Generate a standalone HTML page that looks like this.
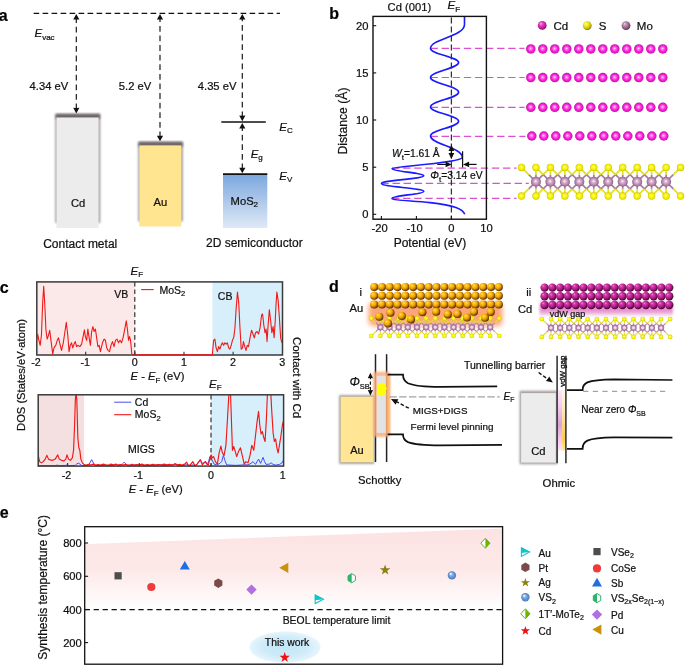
<!DOCTYPE html>
<html lang="en"><head><meta charset="utf-8"><title>Figure</title>
<style>
html,body{margin:0;padding:0;background:#fff;}
body{width:685px;height:665px;overflow:hidden;}
svg{display:block;font-family:"Liberation Sans", sans-serif;}
svg text{stroke:#111;stroke-width:0.22px;}
</style></head><body>
<svg width="685" height="665" viewBox="0 0 685 665">
<defs>
<filter id="blur08" x="-20%" y="-20%" width="140%" height="140%"><feGaussianBlur stdDeviation="0.8"/></filter>
<linearGradient id="gMoS2" x1="0" y1="0" x2="0" y2="1"><stop offset="0" stop-color="#7ba7de"/><stop offset="1" stop-color="#dfe9f6"/></linearGradient>
<radialGradient id="gCd" cx="0.5" cy="0.5" r="0.5" fx="0.46" fy="0.44"><stop offset="0" stop-color="#ffd8f8"/><stop offset="0.28" stop-color="#ff74e8"/><stop offset="0.6" stop-color="#fa22d6"/><stop offset="0.85" stop-color="#e212c2"/><stop offset="1" stop-color="#b4109e"/></radialGradient>
<radialGradient id="gCdL" cx="0.44" cy="0.42" r="0.62" fx="0.34" fy="0.28"><stop offset="0" stop-color="#ff9ee6"/><stop offset="0.4" stop-color="#e436bc"/><stop offset="0.75" stop-color="#b81f98"/><stop offset="1" stop-color="#5e0e4e"/></radialGradient>
<radialGradient id="gSL" cx="0.44" cy="0.42" r="0.62" fx="0.34" fy="0.28"><stop offset="0" stop-color="#ffff9a"/><stop offset="0.4" stop-color="#f0e81c"/><stop offset="0.75" stop-color="#c4bb10"/><stop offset="1" stop-color="#5e5908"/></radialGradient>
<radialGradient id="gMoL" cx="0.44" cy="0.42" r="0.62" fx="0.34" fy="0.28"><stop offset="0" stop-color="#ecc9e2"/><stop offset="0.4" stop-color="#b582a8"/><stop offset="0.75" stop-color="#875a7c"/><stop offset="1" stop-color="#3f2439"/></radialGradient>
<radialGradient id="gS" cx="0.5" cy="0.5" r="0.5" fx="0.44" fy="0.42"><stop offset="0" stop-color="#ffff9c"/><stop offset="0.35" stop-color="#fbf820"/><stop offset="0.75" stop-color="#f0ea00"/><stop offset="1" stop-color="#c8c200"/></radialGradient>
<radialGradient id="gMo" cx="0.5" cy="0.5" r="0.5" fx="0.46" fy="0.44"><stop offset="0" stop-color="#fff6fd"/><stop offset="0.3" stop-color="#dcb6d4"/><stop offset="0.7" stop-color="#b888ae"/><stop offset="1" stop-color="#8c5f86"/></radialGradient>
<filter id="blur1" x="-30%" y="-30%" width="160%" height="160%"><feGaussianBlur stdDeviation="1.1"/></filter>
<filter id="blur3" x="-30%" y="-50%" width="160%" height="200%"><feGaussianBlur stdDeviation="2.6"/></filter>
<radialGradient id="gAu" cx="0.42" cy="0.40" r="0.66" fx="0.32" fy="0.27"><stop offset="0" stop-color="#ffe670"/><stop offset="0.25" stop-color="#fcc01c"/><stop offset="0.5" stop-color="#f0a600"/><stop offset="0.68" stop-color="#b87200"/><stop offset="0.86" stop-color="#6a4000"/><stop offset="1" stop-color="#2a1400"/></radialGradient>
<radialGradient id="gCdD" cx="0.42" cy="0.40" r="0.66" fx="0.32" fy="0.27"><stop offset="0" stop-color="#f58ad8"/><stop offset="0.22" stop-color="#d83aae"/><stop offset="0.46" stop-color="#c02395"/><stop offset="0.66" stop-color="#951872"/><stop offset="0.85" stop-color="#540a40"/><stop offset="1" stop-color="#1c0216"/></radialGradient>
<radialGradient id="gMoRing" cx="0.5" cy="0.5" r="0.5"><stop offset="0" stop-color="#f6e6f2"/><stop offset="0.38" stop-color="#ecd0e6"/><stop offset="0.62" stop-color="#b584ac"/><stop offset="1" stop-color="#a06c98"/></radialGradient>
<linearGradient id="gPinkGlow" x1="0" y1="0" x2="0" y2="1"><stop offset="0" stop-color="#f0b4e0" stop-opacity="0.35"/><stop offset="0.35" stop-color="#e48ccb" stop-opacity="0.9"/><stop offset="0.62" stop-color="#e592ce"/><stop offset="0.85" stop-color="#f3c6e6" stop-opacity="0.8"/><stop offset="1" stop-color="#ffffff" stop-opacity="0"/></linearGradient>
<linearGradient id="gStripP" x1="0" y1="0" x2="0" y2="1"><stop offset="0" stop-color="#fde4f8"/><stop offset="0.25" stop-color="#f8ccf0"/><stop offset="0.57" stop-color="#dca2d6"/><stop offset="0.85" stop-color="#f7caf1"/><stop offset="1" stop-color="#fde0f9"/></linearGradient>
<linearGradient id="gStripY" x1="0" y1="0" x2="0" y2="1"><stop offset="0" stop-color="#fdf5e6"/><stop offset="0.3" stop-color="#fbeac0"/><stop offset="0.6" stop-color="#f9d67c"/><stop offset="0.8" stop-color="#fbcc44"/><stop offset="1" stop-color="#fde6a4"/></linearGradient>
<linearGradient id="gPinkE" gradientUnits="userSpaceOnUse" x1="0" y1="528" x2="0" y2="609.5"><stop offset="0" stop-color="#fce3e3"/><stop offset="0.5" stop-color="#fde8e8"/><stop offset="1" stop-color="#ffffff"/></linearGradient>
<radialGradient id="gEll" cx="0.5" cy="0.5" r="0.5"><stop offset="0" stop-color="#c3e7f7"/><stop offset="0.6" stop-color="#cdebf8"/><stop offset="1" stop-color="#e6f5fc"/></radialGradient>
<radialGradient id="gBlueS" cx="0.5" cy="0.5" r="0.5" fx="0.33" fy="0.27"><stop offset="0" stop-color="#ffffff"/><stop offset="0.14" stop-color="#e4eefb"/><stop offset="0.36" stop-color="#8db4e4"/><stop offset="0.7" stop-color="#5e90d2"/><stop offset="1" stop-color="#4d7cbc"/></radialGradient>
</defs>

<rect width="685" height="665" fill="#fff"/>
<g id="panel-a">
<text x="-1.2" y="21.0" font-size="16" font-weight="bold" fill="#000">a</text>
<line x1="33.6" y1="13.3" x2="280" y2="13.3" stroke="#111" stroke-width="1.15" stroke-dasharray="5.6 3.4"/>
<text x="34.5" y="37.4" font-size="11.5" fill="#111"><tspan font-style="italic">E</tspan><tspan font-size="8" dy="2.6" font-style="normal">vac</tspan></text>
<rect x="55.2" y="114.3" width="45.1" height="108.7" fill="#aaa4a4" filter="url(#blur08)"/>
<rect x="55.7" y="113.8" width="44.3" height="5" fill="#6f6767" filter="url(#blur08)"/>
<rect x="56.5" y="117.5" width="42.1" height="110.5" fill="#ececec"/>
<rect x="138.1" y="142.2" width="44.9" height="79.3" fill="#aaa4a4" filter="url(#blur08)"/>
<rect x="138.6" y="141.7" width="44.1" height="5" fill="#6f6767" filter="url(#blur08)"/>
<rect x="139.4" y="145.4" width="41.9" height="81.1" fill="#ffe590"/>
<rect x="223" y="174" width="44.3" height="54" fill="url(#gMoS2)"/>
<line x1="223" y1="174.1" x2="267.3" y2="174.1" stroke="#111" stroke-width="1.6"/>
<line x1="221.3" y1="122" x2="265.8" y2="122" stroke="#111" stroke-width="1.6"/>
<line x1="76.3" y1="109.4" x2="76.3" y2="19.0" stroke="#111" stroke-width="1.15" stroke-dasharray="5.8 3.8"/>
<path d="M76.30 14.00L79.40 19.60L76.30 19.43L73.20 19.60Z" fill="#111"/>
<path d="M76.30 113.40L73.20 107.80L76.30 107.97L79.40 107.80Z" fill="#111"/>
<line x1="160.0" y1="137.3" x2="160.0" y2="19.0" stroke="#111" stroke-width="1.15" stroke-dasharray="5.8 3.8"/>
<path d="M160.00 14.00L163.10 19.60L160.00 19.43L156.90 19.60Z" fill="#111"/>
<path d="M160.00 141.30L156.90 135.70L160.00 135.87L163.10 135.70Z" fill="#111"/>
<line x1="242.3" y1="117.2" x2="242.3" y2="19.0" stroke="#111" stroke-width="1.15" stroke-dasharray="5.8 3.8"/>
<path d="M242.30 14.00L245.40 19.60L242.30 19.43L239.20 19.60Z" fill="#111"/>
<path d="M242.30 121.20L239.20 115.60L242.30 115.77L245.40 115.60Z" fill="#111"/>
<line x1="242.3" y1="169.3" x2="242.3" y2="128.0" stroke="#111" stroke-width="1.15" stroke-dasharray="5.8 3.8"/>
<path d="M242.30 123.00L245.40 128.60L242.30 128.43L239.20 128.60Z" fill="#111"/>
<path d="M242.30 173.30L239.20 167.70L242.30 167.87L245.40 167.70Z" fill="#111"/>
<text x="29.6" y="90.2" font-size="11.2" fill="#111">4.34 eV</text>
<text x="118.8" y="90.2" font-size="11.2" fill="#111">5.2 eV</text>
<text x="197.8" y="90.2" font-size="11.2" fill="#111">4.35 eV</text>
<text x="71.0" y="206.7" font-size="11.2" fill="#111">Cd</text>
<text x="153.6" y="206.0" font-size="11.2" fill="#111">Au</text>
<text x="230.6" y="204.8" font-size="11.2" fill="#111">MoS<tspan font-size="8" dy="2.6" font-style="normal">2</tspan></text>
<text x="279.3" y="130.6" font-size="11.5" fill="#111"><tspan font-style="italic">E</tspan><tspan font-size="8" dy="2.6" font-style="normal">C</tspan></text>
<text x="250.7" y="157.6" font-size="11.5" fill="#111"><tspan font-style="italic">E</tspan><tspan font-size="8" dy="2.6" font-style="normal">g</tspan></text>
<text x="279.3" y="179.7" font-size="11.5" fill="#111"><tspan font-style="italic">E</tspan><tspan font-size="8" dy="2.6" font-style="normal">V</tspan></text>
<text x="43.2" y="247.6" font-size="12" fill="#111">Contact metal</text>
<text x="206.0" y="247.1" font-size="12" fill="#111">2D semiconductor</text>
</g>
<g id="panel-b">
<text x="329.3" y="19.0" font-size="16" font-weight="bold" fill="#000">b</text>
<line x1="430.5" y1="48.4" x2="524.5" y2="48.4" stroke="#dc4fd0" stroke-width="1.2" stroke-dasharray="7.4 3.7"/>
<line x1="430.5" y1="77.5" x2="524.5" y2="77.5" stroke="#dc4fd0" stroke-width="1.2" stroke-dasharray="7.4 3.7"/>
<line x1="430.5" y1="107.3" x2="524.5" y2="107.3" stroke="#dc4fd0" stroke-width="1.2" stroke-dasharray="7.4 3.7"/>
<line x1="430.5" y1="136.3" x2="525.5" y2="136.3" stroke="#dc4fd0" stroke-width="1.2" stroke-dasharray="7.4 3.7"/>
<line x1="392" y1="168.2" x2="516.5" y2="168.2" stroke="#dc4fd0" stroke-width="1.2" stroke-dasharray="7.4 3.7"/>
<line x1="381.4" y1="183.3" x2="528.8" y2="183.3" stroke="#dc4fd0" stroke-width="1.2" stroke-dasharray="7.4 3.7"/>
<line x1="392" y1="198.3" x2="516.5" y2="198.3" stroke="#dc4fd0" stroke-width="1.2" stroke-dasharray="7.4 3.7"/>
<line x1="451.4" y1="16.4" x2="451.4" y2="219.2" stroke="#333" stroke-width="1.25" stroke-dasharray="5.8 3.2" stroke-dashoffset="7.8"/>
<path d="M464.8 214.3C462.5 209.0 455 205.5 430 202.6C410 200.6 392 200.2 392 198.4C392.00 195.46 423.80 194.34 423.80 191.40C423.80 188.08 381.40 186.82 381.40 183.50C381.40 180.27 423.80 179.03 423.80 175.80C423.80 172.69 392.00 171.51 392.00 168.40C392.00 166.61 462.30 162.80 462.30 157.20C462.30 147.62 430.50 143.99 430.50 135.90C430.50 130.02 458.60 127.08 458.60 121.20C458.60 115.52 430.50 112.68 430.50 107.00C430.50 101.08 458.60 98.12 458.60 92.20C458.60 86.28 430.50 83.32 430.50 77.40C430.50 71.48 458.60 68.52 458.60 62.60C458.60 56.92 430.50 54.08 430.50 48.40C430.50 38.84 464.50 36.45 464.50 24.50L464.5 16.4" fill="none" stroke="#1a1aff" stroke-width="1.6" stroke-linejoin="round"/>
<rect x="373.0" y="16.4" width="113.39999999999998" height="202.79999999999998" fill="none" stroke="#111" stroke-width="1.4"/>
<line x1="373.0" y1="214.3" x2="376.2" y2="214.3" stroke="#111" stroke-width="1.1"/>
<text x="368.4" y="218.4" font-size="11.2" text-anchor="end" fill="#111">0</text>
<line x1="373.0" y1="167.2" x2="376.2" y2="167.2" stroke="#111" stroke-width="1.1"/>
<text x="368.4" y="171.2" font-size="11.2" text-anchor="end" fill="#111">5</text>
<line x1="373.0" y1="120.0" x2="376.2" y2="120.0" stroke="#111" stroke-width="1.1"/>
<text x="368.4" y="124.1" font-size="11.2" text-anchor="end" fill="#111">10</text>
<line x1="373.0" y1="72.9" x2="376.2" y2="72.9" stroke="#111" stroke-width="1.1"/>
<text x="368.4" y="77.0" font-size="11.2" text-anchor="end" fill="#111">15</text>
<line x1="373.0" y1="25.7" x2="376.2" y2="25.7" stroke="#111" stroke-width="1.1"/>
<text x="368.4" y="29.8" font-size="11.2" text-anchor="end" fill="#111">20</text>
<line x1="381.4" y1="219.2" x2="381.4" y2="216.0" stroke="#111" stroke-width="1.1"/>
<text x="379.7" y="231.6" font-size="11.2" text-anchor="middle" fill="#111">-20</text>
<line x1="416.4" y1="219.2" x2="416.4" y2="216.0" stroke="#111" stroke-width="1.1"/>
<text x="414.7" y="231.6" font-size="11.2" text-anchor="middle" fill="#111">-10</text>
<line x1="451.4" y1="219.2" x2="451.4" y2="216.0" stroke="#111" stroke-width="1.1"/>
<text x="451.4" y="231.6" font-size="11.2" text-anchor="middle" fill="#111">0</text>
<text x="486.4" y="231.6" font-size="11.2" text-anchor="middle" fill="#111">10</text>
<text x="430.0" y="246.5" font-size="12" text-anchor="middle" fill="#111">Potential (eV)</text>
<text transform="translate(346.8,121.0) rotate(-90)" font-size="12.2" text-anchor="middle" fill="#111">Distance (Å)</text>
<text x="387.6" y="11.3" font-size="11.2" fill="#111">Cd (001)</text>
<text x="447.6" y="9.0" font-size="11.5" fill="#111"><tspan font-style="italic">E</tspan><tspan font-size="8" dy="2.6" font-style="normal">F</tspan></text>
<text x="392.0" y="157.2" font-size="10.3" fill="#111"><tspan font-style="italic">W</tspan><tspan font-size="8" dy="2.4" font-style="normal">t</tspan><tspan dy="-2.4">=1.61 Å</tspan></text>
<text x="430.3" y="179.2" font-size="10.3" fill="#111"><tspan font-style="italic">Φ</tspan><tspan font-size="8" dy="2.4" font-style="normal">t</tspan><tspan dy="-2.4">=3.14 eV</tspan></text>
<line x1="451.4" y1="149" x2="451.4" y2="155" stroke="#111" stroke-width="1.3"/>
<path d="M451.40 144.90L454.30 151.10L451.40 150.91L448.50 151.10Z" fill="#111"/>
<path d="M451.40 159.10L448.50 152.90L451.40 153.09L454.30 152.90Z" fill="#111"/>
<line x1="437.2" y1="164.4" x2="447" y2="164.4" stroke="#111" stroke-width="1.2"/>
<path d="M451.70 164.40L445.50 167.30L445.69 164.40L445.50 161.50Z" fill="#111"/>
<line x1="462.6" y1="151.2" x2="462.6" y2="167.4" stroke="#111" stroke-width="1.2"/>
<line x1="467.5" y1="164.4" x2="476.6" y2="164.4" stroke="#111" stroke-width="1.2"/>
<path d="M463.00 164.40L469.20 161.50L469.01 164.40L469.20 167.30Z" fill="#111"/>
<circle cx="542.20" cy="25.40" r="4.4" fill="url(#gCdL)"/>
<text x="553.5" y="30.1" font-size="11.5" fill="#111">Cd</text>
<circle cx="587.20" cy="25.60" r="4.4" fill="url(#gSL)"/>
<text x="598.8" y="30.1" font-size="11.5" fill="#111">S</text>
<circle cx="626.00" cy="25.60" r="4.4" fill="url(#gMoL)"/>
<text x="636.8" y="30.1" font-size="11.5" fill="#111">Mo</text>
<circle cx="530.80" cy="48.90" r="4.75" fill="url(#gCd)"/>
<circle cx="542.80" cy="48.90" r="4.75" fill="url(#gCd)"/>
<circle cx="554.80" cy="48.90" r="4.75" fill="url(#gCd)"/>
<circle cx="566.80" cy="48.90" r="4.75" fill="url(#gCd)"/>
<circle cx="578.80" cy="48.90" r="4.75" fill="url(#gCd)"/>
<circle cx="590.80" cy="48.90" r="4.75" fill="url(#gCd)"/>
<circle cx="602.80" cy="48.90" r="4.75" fill="url(#gCd)"/>
<circle cx="614.80" cy="48.90" r="4.75" fill="url(#gCd)"/>
<circle cx="626.80" cy="48.90" r="4.75" fill="url(#gCd)"/>
<circle cx="638.80" cy="48.90" r="4.75" fill="url(#gCd)"/>
<circle cx="650.80" cy="48.90" r="4.75" fill="url(#gCd)"/>
<circle cx="662.80" cy="48.90" r="4.75" fill="url(#gCd)"/>
<circle cx="530.80" cy="77.60" r="4.75" fill="url(#gCd)"/>
<circle cx="542.80" cy="77.60" r="4.75" fill="url(#gCd)"/>
<circle cx="554.80" cy="77.60" r="4.75" fill="url(#gCd)"/>
<circle cx="566.80" cy="77.60" r="4.75" fill="url(#gCd)"/>
<circle cx="578.80" cy="77.60" r="4.75" fill="url(#gCd)"/>
<circle cx="590.80" cy="77.60" r="4.75" fill="url(#gCd)"/>
<circle cx="602.80" cy="77.60" r="4.75" fill="url(#gCd)"/>
<circle cx="614.80" cy="77.60" r="4.75" fill="url(#gCd)"/>
<circle cx="626.80" cy="77.60" r="4.75" fill="url(#gCd)"/>
<circle cx="638.80" cy="77.60" r="4.75" fill="url(#gCd)"/>
<circle cx="650.80" cy="77.60" r="4.75" fill="url(#gCd)"/>
<circle cx="662.80" cy="77.60" r="4.75" fill="url(#gCd)"/>
<circle cx="530.80" cy="107.30" r="4.75" fill="url(#gCd)"/>
<circle cx="542.80" cy="107.30" r="4.75" fill="url(#gCd)"/>
<circle cx="554.80" cy="107.30" r="4.75" fill="url(#gCd)"/>
<circle cx="566.80" cy="107.30" r="4.75" fill="url(#gCd)"/>
<circle cx="578.80" cy="107.30" r="4.75" fill="url(#gCd)"/>
<circle cx="590.80" cy="107.30" r="4.75" fill="url(#gCd)"/>
<circle cx="602.80" cy="107.30" r="4.75" fill="url(#gCd)"/>
<circle cx="614.80" cy="107.30" r="4.75" fill="url(#gCd)"/>
<circle cx="626.80" cy="107.30" r="4.75" fill="url(#gCd)"/>
<circle cx="638.80" cy="107.30" r="4.75" fill="url(#gCd)"/>
<circle cx="650.80" cy="107.30" r="4.75" fill="url(#gCd)"/>
<circle cx="662.80" cy="107.30" r="4.75" fill="url(#gCd)"/>
<circle cx="531.80" cy="136.00" r="4.75" fill="url(#gCd)"/>
<circle cx="543.80" cy="136.00" r="4.75" fill="url(#gCd)"/>
<circle cx="555.80" cy="136.00" r="4.75" fill="url(#gCd)"/>
<circle cx="567.80" cy="136.00" r="4.75" fill="url(#gCd)"/>
<circle cx="579.80" cy="136.00" r="4.75" fill="url(#gCd)"/>
<circle cx="591.80" cy="136.00" r="4.75" fill="url(#gCd)"/>
<circle cx="603.80" cy="136.00" r="4.75" fill="url(#gCd)"/>
<circle cx="615.80" cy="136.00" r="4.75" fill="url(#gCd)"/>
<circle cx="627.80" cy="136.00" r="4.75" fill="url(#gCd)"/>
<circle cx="639.80" cy="136.00" r="4.75" fill="url(#gCd)"/>
<circle cx="651.80" cy="136.00" r="4.75" fill="url(#gCd)"/>
<circle cx="663.80" cy="136.00" r="4.75" fill="url(#gCd)"/>
<line x1="535.96" y1="181.7" x2="528.73" y2="174.55" stroke="#a57ea2" stroke-width="1.7"/>
<line x1="528.73" y1="174.55" x2="521.50" y2="167.4" stroke="#e6e010" stroke-width="1.7"/>
<line x1="535.96" y1="181.7" x2="535.96" y2="174.55" stroke="#a57ea2" stroke-width="1.7"/>
<line x1="535.96" y1="174.55" x2="535.96" y2="167.4" stroke="#e6e010" stroke-width="1.7"/>
<line x1="535.96" y1="181.7" x2="543.19" y2="174.55" stroke="#a57ea2" stroke-width="1.7"/>
<line x1="543.19" y1="174.55" x2="550.42" y2="167.4" stroke="#e6e010" stroke-width="1.7"/>
<line x1="535.96" y1="181.7" x2="528.73" y2="188.85" stroke="#a57ea2" stroke-width="1.7"/>
<line x1="528.73" y1="188.85" x2="521.50" y2="196.0" stroke="#e6e010" stroke-width="1.7"/>
<line x1="535.96" y1="181.7" x2="535.96" y2="188.85" stroke="#a57ea2" stroke-width="1.7"/>
<line x1="535.96" y1="188.85" x2="535.96" y2="196.0" stroke="#e6e010" stroke-width="1.7"/>
<line x1="535.96" y1="181.7" x2="543.19" y2="188.85" stroke="#a57ea2" stroke-width="1.7"/>
<line x1="543.19" y1="188.85" x2="550.42" y2="196.0" stroke="#e6e010" stroke-width="1.7"/>
<line x1="550.42" y1="181.7" x2="543.19" y2="174.55" stroke="#a57ea2" stroke-width="1.7"/>
<line x1="543.19" y1="174.55" x2="535.96" y2="167.4" stroke="#e6e010" stroke-width="1.7"/>
<line x1="550.42" y1="181.7" x2="550.42" y2="174.55" stroke="#a57ea2" stroke-width="1.7"/>
<line x1="550.42" y1="174.55" x2="550.42" y2="167.4" stroke="#e6e010" stroke-width="1.7"/>
<line x1="550.42" y1="181.7" x2="557.65" y2="174.55" stroke="#a57ea2" stroke-width="1.7"/>
<line x1="557.65" y1="174.55" x2="564.88" y2="167.4" stroke="#e6e010" stroke-width="1.7"/>
<line x1="550.42" y1="181.7" x2="543.19" y2="188.85" stroke="#a57ea2" stroke-width="1.7"/>
<line x1="543.19" y1="188.85" x2="535.96" y2="196.0" stroke="#e6e010" stroke-width="1.7"/>
<line x1="550.42" y1="181.7" x2="550.42" y2="188.85" stroke="#a57ea2" stroke-width="1.7"/>
<line x1="550.42" y1="188.85" x2="550.42" y2="196.0" stroke="#e6e010" stroke-width="1.7"/>
<line x1="550.42" y1="181.7" x2="557.65" y2="188.85" stroke="#a57ea2" stroke-width="1.7"/>
<line x1="557.65" y1="188.85" x2="564.88" y2="196.0" stroke="#e6e010" stroke-width="1.7"/>
<line x1="564.88" y1="181.7" x2="557.65" y2="174.55" stroke="#a57ea2" stroke-width="1.7"/>
<line x1="557.65" y1="174.55" x2="550.42" y2="167.4" stroke="#e6e010" stroke-width="1.7"/>
<line x1="564.88" y1="181.7" x2="564.88" y2="174.55" stroke="#a57ea2" stroke-width="1.7"/>
<line x1="564.88" y1="174.55" x2="564.88" y2="167.4" stroke="#e6e010" stroke-width="1.7"/>
<line x1="564.88" y1="181.7" x2="572.11" y2="174.55" stroke="#a57ea2" stroke-width="1.7"/>
<line x1="572.11" y1="174.55" x2="579.34" y2="167.4" stroke="#e6e010" stroke-width="1.7"/>
<line x1="564.88" y1="181.7" x2="557.65" y2="188.85" stroke="#a57ea2" stroke-width="1.7"/>
<line x1="557.65" y1="188.85" x2="550.42" y2="196.0" stroke="#e6e010" stroke-width="1.7"/>
<line x1="564.88" y1="181.7" x2="564.88" y2="188.85" stroke="#a57ea2" stroke-width="1.7"/>
<line x1="564.88" y1="188.85" x2="564.88" y2="196.0" stroke="#e6e010" stroke-width="1.7"/>
<line x1="564.88" y1="181.7" x2="572.11" y2="188.85" stroke="#a57ea2" stroke-width="1.7"/>
<line x1="572.11" y1="188.85" x2="579.34" y2="196.0" stroke="#e6e010" stroke-width="1.7"/>
<line x1="579.34" y1="181.7" x2="572.11" y2="174.55" stroke="#a57ea2" stroke-width="1.7"/>
<line x1="572.11" y1="174.55" x2="564.88" y2="167.4" stroke="#e6e010" stroke-width="1.7"/>
<line x1="579.34" y1="181.7" x2="579.34" y2="174.55" stroke="#a57ea2" stroke-width="1.7"/>
<line x1="579.34" y1="174.55" x2="579.34" y2="167.4" stroke="#e6e010" stroke-width="1.7"/>
<line x1="579.34" y1="181.7" x2="586.57" y2="174.55" stroke="#a57ea2" stroke-width="1.7"/>
<line x1="586.57" y1="174.55" x2="593.80" y2="167.4" stroke="#e6e010" stroke-width="1.7"/>
<line x1="579.34" y1="181.7" x2="572.11" y2="188.85" stroke="#a57ea2" stroke-width="1.7"/>
<line x1="572.11" y1="188.85" x2="564.88" y2="196.0" stroke="#e6e010" stroke-width="1.7"/>
<line x1="579.34" y1="181.7" x2="579.34" y2="188.85" stroke="#a57ea2" stroke-width="1.7"/>
<line x1="579.34" y1="188.85" x2="579.34" y2="196.0" stroke="#e6e010" stroke-width="1.7"/>
<line x1="579.34" y1="181.7" x2="586.57" y2="188.85" stroke="#a57ea2" stroke-width="1.7"/>
<line x1="586.57" y1="188.85" x2="593.80" y2="196.0" stroke="#e6e010" stroke-width="1.7"/>
<line x1="593.80" y1="181.7" x2="586.57" y2="174.55" stroke="#a57ea2" stroke-width="1.7"/>
<line x1="586.57" y1="174.55" x2="579.34" y2="167.4" stroke="#e6e010" stroke-width="1.7"/>
<line x1="593.80" y1="181.7" x2="593.80" y2="174.55" stroke="#a57ea2" stroke-width="1.7"/>
<line x1="593.80" y1="174.55" x2="593.80" y2="167.4" stroke="#e6e010" stroke-width="1.7"/>
<line x1="593.80" y1="181.7" x2="601.03" y2="174.55" stroke="#a57ea2" stroke-width="1.7"/>
<line x1="601.03" y1="174.55" x2="608.26" y2="167.4" stroke="#e6e010" stroke-width="1.7"/>
<line x1="593.80" y1="181.7" x2="586.57" y2="188.85" stroke="#a57ea2" stroke-width="1.7"/>
<line x1="586.57" y1="188.85" x2="579.34" y2="196.0" stroke="#e6e010" stroke-width="1.7"/>
<line x1="593.80" y1="181.7" x2="593.80" y2="188.85" stroke="#a57ea2" stroke-width="1.7"/>
<line x1="593.80" y1="188.85" x2="593.80" y2="196.0" stroke="#e6e010" stroke-width="1.7"/>
<line x1="593.80" y1="181.7" x2="601.03" y2="188.85" stroke="#a57ea2" stroke-width="1.7"/>
<line x1="601.03" y1="188.85" x2="608.26" y2="196.0" stroke="#e6e010" stroke-width="1.7"/>
<line x1="608.26" y1="181.7" x2="601.03" y2="174.55" stroke="#a57ea2" stroke-width="1.7"/>
<line x1="601.03" y1="174.55" x2="593.80" y2="167.4" stroke="#e6e010" stroke-width="1.7"/>
<line x1="608.26" y1="181.7" x2="608.26" y2="174.55" stroke="#a57ea2" stroke-width="1.7"/>
<line x1="608.26" y1="174.55" x2="608.26" y2="167.4" stroke="#e6e010" stroke-width="1.7"/>
<line x1="608.26" y1="181.7" x2="615.49" y2="174.55" stroke="#a57ea2" stroke-width="1.7"/>
<line x1="615.49" y1="174.55" x2="622.72" y2="167.4" stroke="#e6e010" stroke-width="1.7"/>
<line x1="608.26" y1="181.7" x2="601.03" y2="188.85" stroke="#a57ea2" stroke-width="1.7"/>
<line x1="601.03" y1="188.85" x2="593.80" y2="196.0" stroke="#e6e010" stroke-width="1.7"/>
<line x1="608.26" y1="181.7" x2="608.26" y2="188.85" stroke="#a57ea2" stroke-width="1.7"/>
<line x1="608.26" y1="188.85" x2="608.26" y2="196.0" stroke="#e6e010" stroke-width="1.7"/>
<line x1="608.26" y1="181.7" x2="615.49" y2="188.85" stroke="#a57ea2" stroke-width="1.7"/>
<line x1="615.49" y1="188.85" x2="622.72" y2="196.0" stroke="#e6e010" stroke-width="1.7"/>
<line x1="622.72" y1="181.7" x2="615.49" y2="174.55" stroke="#a57ea2" stroke-width="1.7"/>
<line x1="615.49" y1="174.55" x2="608.26" y2="167.4" stroke="#e6e010" stroke-width="1.7"/>
<line x1="622.72" y1="181.7" x2="622.72" y2="174.55" stroke="#a57ea2" stroke-width="1.7"/>
<line x1="622.72" y1="174.55" x2="622.72" y2="167.4" stroke="#e6e010" stroke-width="1.7"/>
<line x1="622.72" y1="181.7" x2="629.95" y2="174.55" stroke="#a57ea2" stroke-width="1.7"/>
<line x1="629.95" y1="174.55" x2="637.18" y2="167.4" stroke="#e6e010" stroke-width="1.7"/>
<line x1="622.72" y1="181.7" x2="615.49" y2="188.85" stroke="#a57ea2" stroke-width="1.7"/>
<line x1="615.49" y1="188.85" x2="608.26" y2="196.0" stroke="#e6e010" stroke-width="1.7"/>
<line x1="622.72" y1="181.7" x2="622.72" y2="188.85" stroke="#a57ea2" stroke-width="1.7"/>
<line x1="622.72" y1="188.85" x2="622.72" y2="196.0" stroke="#e6e010" stroke-width="1.7"/>
<line x1="622.72" y1="181.7" x2="629.95" y2="188.85" stroke="#a57ea2" stroke-width="1.7"/>
<line x1="629.95" y1="188.85" x2="637.18" y2="196.0" stroke="#e6e010" stroke-width="1.7"/>
<line x1="637.18" y1="181.7" x2="629.95" y2="174.55" stroke="#a57ea2" stroke-width="1.7"/>
<line x1="629.95" y1="174.55" x2="622.72" y2="167.4" stroke="#e6e010" stroke-width="1.7"/>
<line x1="637.18" y1="181.7" x2="637.18" y2="174.55" stroke="#a57ea2" stroke-width="1.7"/>
<line x1="637.18" y1="174.55" x2="637.18" y2="167.4" stroke="#e6e010" stroke-width="1.7"/>
<line x1="637.18" y1="181.7" x2="644.41" y2="174.55" stroke="#a57ea2" stroke-width="1.7"/>
<line x1="644.41" y1="174.55" x2="651.64" y2="167.4" stroke="#e6e010" stroke-width="1.7"/>
<line x1="637.18" y1="181.7" x2="629.95" y2="188.85" stroke="#a57ea2" stroke-width="1.7"/>
<line x1="629.95" y1="188.85" x2="622.72" y2="196.0" stroke="#e6e010" stroke-width="1.7"/>
<line x1="637.18" y1="181.7" x2="637.18" y2="188.85" stroke="#a57ea2" stroke-width="1.7"/>
<line x1="637.18" y1="188.85" x2="637.18" y2="196.0" stroke="#e6e010" stroke-width="1.7"/>
<line x1="637.18" y1="181.7" x2="644.41" y2="188.85" stroke="#a57ea2" stroke-width="1.7"/>
<line x1="644.41" y1="188.85" x2="651.64" y2="196.0" stroke="#e6e010" stroke-width="1.7"/>
<line x1="651.64" y1="181.7" x2="644.41" y2="174.55" stroke="#a57ea2" stroke-width="1.7"/>
<line x1="644.41" y1="174.55" x2="637.18" y2="167.4" stroke="#e6e010" stroke-width="1.7"/>
<line x1="651.64" y1="181.7" x2="651.64" y2="174.55" stroke="#a57ea2" stroke-width="1.7"/>
<line x1="651.64" y1="174.55" x2="651.64" y2="167.4" stroke="#e6e010" stroke-width="1.7"/>
<line x1="651.64" y1="181.7" x2="658.87" y2="174.55" stroke="#a57ea2" stroke-width="1.7"/>
<line x1="658.87" y1="174.55" x2="666.10" y2="167.4" stroke="#e6e010" stroke-width="1.7"/>
<line x1="651.64" y1="181.7" x2="644.41" y2="188.85" stroke="#a57ea2" stroke-width="1.7"/>
<line x1="644.41" y1="188.85" x2="637.18" y2="196.0" stroke="#e6e010" stroke-width="1.7"/>
<line x1="651.64" y1="181.7" x2="651.64" y2="188.85" stroke="#a57ea2" stroke-width="1.7"/>
<line x1="651.64" y1="188.85" x2="651.64" y2="196.0" stroke="#e6e010" stroke-width="1.7"/>
<line x1="651.64" y1="181.7" x2="658.87" y2="188.85" stroke="#a57ea2" stroke-width="1.7"/>
<line x1="658.87" y1="188.85" x2="666.10" y2="196.0" stroke="#e6e010" stroke-width="1.7"/>
<line x1="666.10" y1="181.7" x2="658.87" y2="174.55" stroke="#a57ea2" stroke-width="1.7"/>
<line x1="658.87" y1="174.55" x2="651.64" y2="167.4" stroke="#e6e010" stroke-width="1.7"/>
<line x1="666.10" y1="181.7" x2="666.10" y2="174.55" stroke="#a57ea2" stroke-width="1.7"/>
<line x1="666.10" y1="174.55" x2="666.10" y2="167.4" stroke="#e6e010" stroke-width="1.7"/>
<line x1="666.10" y1="181.7" x2="673.33" y2="174.55" stroke="#a57ea2" stroke-width="1.7"/>
<line x1="673.33" y1="174.55" x2="680.56" y2="167.4" stroke="#e6e010" stroke-width="1.7"/>
<line x1="666.10" y1="181.7" x2="658.87" y2="188.85" stroke="#a57ea2" stroke-width="1.7"/>
<line x1="658.87" y1="188.85" x2="651.64" y2="196.0" stroke="#e6e010" stroke-width="1.7"/>
<line x1="666.10" y1="181.7" x2="666.10" y2="188.85" stroke="#a57ea2" stroke-width="1.7"/>
<line x1="666.10" y1="188.85" x2="666.10" y2="196.0" stroke="#e6e010" stroke-width="1.7"/>
<line x1="666.10" y1="181.7" x2="673.33" y2="188.85" stroke="#a57ea2" stroke-width="1.7"/>
<line x1="673.33" y1="188.85" x2="680.56" y2="196.0" stroke="#e6e010" stroke-width="1.7"/>
<circle cx="521.50" cy="167.40" r="3.7" fill="url(#gS)"/>
<circle cx="521.50" cy="196.00" r="3.7" fill="url(#gS)"/>
<circle cx="535.96" cy="167.40" r="3.7" fill="url(#gS)"/>
<circle cx="535.96" cy="196.00" r="3.7" fill="url(#gS)"/>
<circle cx="550.42" cy="167.40" r="3.7" fill="url(#gS)"/>
<circle cx="550.42" cy="196.00" r="3.7" fill="url(#gS)"/>
<circle cx="564.88" cy="167.40" r="3.7" fill="url(#gS)"/>
<circle cx="564.88" cy="196.00" r="3.7" fill="url(#gS)"/>
<circle cx="579.34" cy="167.40" r="3.7" fill="url(#gS)"/>
<circle cx="579.34" cy="196.00" r="3.7" fill="url(#gS)"/>
<circle cx="593.80" cy="167.40" r="3.7" fill="url(#gS)"/>
<circle cx="593.80" cy="196.00" r="3.7" fill="url(#gS)"/>
<circle cx="608.26" cy="167.40" r="3.7" fill="url(#gS)"/>
<circle cx="608.26" cy="196.00" r="3.7" fill="url(#gS)"/>
<circle cx="622.72" cy="167.40" r="3.7" fill="url(#gS)"/>
<circle cx="622.72" cy="196.00" r="3.7" fill="url(#gS)"/>
<circle cx="637.18" cy="167.40" r="3.7" fill="url(#gS)"/>
<circle cx="637.18" cy="196.00" r="3.7" fill="url(#gS)"/>
<circle cx="651.64" cy="167.40" r="3.7" fill="url(#gS)"/>
<circle cx="651.64" cy="196.00" r="3.7" fill="url(#gS)"/>
<circle cx="666.10" cy="167.40" r="3.7" fill="url(#gS)"/>
<circle cx="666.10" cy="196.00" r="3.7" fill="url(#gS)"/>
<circle cx="680.56" cy="167.40" r="3.7" fill="url(#gS)"/>
<circle cx="680.56" cy="196.00" r="3.7" fill="url(#gS)"/>
<circle cx="535.96" cy="181.70" r="5.05" fill="url(#gMo)"/>
<circle cx="550.42" cy="181.70" r="5.05" fill="url(#gMo)"/>
<circle cx="564.88" cy="181.70" r="5.05" fill="url(#gMo)"/>
<circle cx="579.34" cy="181.70" r="5.05" fill="url(#gMo)"/>
<circle cx="593.80" cy="181.70" r="5.05" fill="url(#gMo)"/>
<circle cx="608.26" cy="181.70" r="5.05" fill="url(#gMo)"/>
<circle cx="622.72" cy="181.70" r="5.05" fill="url(#gMo)"/>
<circle cx="637.18" cy="181.70" r="5.05" fill="url(#gMo)"/>
<circle cx="651.64" cy="181.70" r="5.05" fill="url(#gMo)"/>
<circle cx="666.10" cy="181.70" r="5.05" fill="url(#gMo)"/>
</g>
<g id="panel-c">
<text x="-0.3" y="292.8" font-size="16" font-weight="bold" fill="#000">c</text>
<rect x="36.8" y="281.9" width="98.0" height="73.10000000000002" fill="#fbe9e9"/>
<rect x="212.4" y="281.9" width="70.1" height="73.10000000000002" fill="#d6effb"/>
<line x1="134.8" y1="281.9" x2="134.8" y2="355.0" stroke="#222" stroke-width="1.1" stroke-dasharray="4.6 3"/>
<clipPath id="clipC1"><rect x="36.8" y="281.9" width="245.7" height="74.10000000000002"/></clipPath>
<rect x="36.8" y="281.9" width="245.7" height="73.10000000000002" fill="none" stroke="#3a3a3a" stroke-width="1.5"/>
<path d="M36.66 340.32L37.66 334.04L38.92 340.32L40.17 345.34L41.43 335.30L42.68 302.66L43.69 286.34L44.69 302.66L45.95 330.28L47.20 339.06L48.46 335.30L49.71 330.28L50.97 340.32L52.72 354.13L53.98 347.85L55.74 345.34L57.24 340.32L58.50 337.81L60.26 345.34L61.51 350.36L63.27 342.83L64.78 332.79L66.28 322.24L67.79 335.30L69.04 351.62L70.30 345.34L71.55 342.83L72.81 347.85L74.06 344.09L75.32 341.58L76.58 346.60L77.83 345.34L79.84 346.60L81.60 344.09L82.85 337.81L84.36 329.78L85.36 336.55L86.62 340.32L87.87 329.02L89.13 337.81L90.38 345.34L91.64 331.53L92.89 326.51L94.15 331.53L95.41 329.02L96.66 337.81L97.92 346.60L99.17 345.34L100.43 351.62L102.44 342.83L104.19 339.06L105.45 340.32L106.70 347.85L107.96 350.36L109.47 351.62L110.97 345.34L112.48 341.58L113.98 346.60L115.49 340.32L117.00 339.06L118.50 342.83L120.01 340.32L121.52 342.83L123.02 337.81L124.53 330.28L126.29 320.74L127.54 330.28L128.55 340.32L129.55 336.55L130.55 340.32L131.81 354.13L133.07 354.88L212.35 354.88L212.35 354.88L213.61 340.32L214.86 339.06L216.12 347.85L217.37 351.62L218.63 346.60L219.88 349.11L221.14 345.34L222.39 342.83L223.65 345.34L224.90 342.83L226.16 344.09L227.41 342.83L228.67 347.85L229.92 349.11L231.18 345.34L232.44 340.32L233.69 337.81L234.95 327.77L236.20 307.68L237.46 292.12L238.71 302.66L239.97 327.77L241.22 349.11L242.48 347.85L243.48 341.58L244.74 346.60L245.99 350.36L247.25 345.34L248.50 346.60L250.01 337.81L251.52 330.28L253.02 334.04L254.28 337.81L255.53 332.79L257.04 331.53L258.55 334.04L260.05 327.77L261.56 315.21L262.56 313.96L263.82 325.26L265.07 332.79L266.08 329.02L267.08 341.58L268.09 325.26L269.34 309.69L270.60 320.23L271.85 332.79L273.11 326.51L274.11 337.81L275.12 322.75L276.12 302.66L276.87 292.12L278.13 300.15L279.38 317.72L280.64 337.81L281.90 342.83" fill="none" stroke="#f01818" stroke-width="1.1" stroke-linejoin="round" clip-path="url(#clipC1)"/>
<text x="36.0" y="365.8" font-size="10.7" text-anchor="middle" fill="#111">-2</text>
<line x1="85.7" y1="355.0" x2="85.7" y2="351.8" stroke="#333" stroke-width="1.1"/>
<text x="85.2" y="365.8" font-size="10.7" text-anchor="middle" fill="#111">-1</text>
<line x1="134.8" y1="355.0" x2="134.8" y2="351.8" stroke="#333" stroke-width="1.1"/>
<text x="134.8" y="365.8" font-size="10.7" text-anchor="middle" fill="#111">0</text>
<line x1="184.0" y1="355.0" x2="184.0" y2="351.8" stroke="#333" stroke-width="1.1"/>
<text x="184.0" y="365.8" font-size="10.7" text-anchor="middle" fill="#111">1</text>
<line x1="233.1" y1="355.0" x2="233.1" y2="351.8" stroke="#333" stroke-width="1.1"/>
<text x="233.1" y="365.8" font-size="10.7" text-anchor="middle" fill="#111">2</text>
<text x="282.2" y="365.8" font-size="10.7" text-anchor="middle" fill="#111">3</text>
<text x="130.6" y="274.6" font-size="11.5" fill="#111"><tspan font-style="italic">E</tspan><tspan font-size="8" dy="2.6" font-style="normal">F</tspan></text>
<text x="114.2" y="298.4" font-size="10.5" fill="#111">VB</text>
<text x="217.8" y="299.7" font-size="10.5" fill="#111">CB</text>
<line x1="141.1" y1="289.6" x2="153.7" y2="289.6" stroke="#f01818" stroke-width="1.1"/>
<text x="159.5" y="293.9" font-size="10.5" fill="#111">MoS<tspan font-size="7.5" dy="2.4" font-style="normal">2</tspan></text>
<text x="130.6" y="379.9" font-size="11.2" fill="#111"><tspan font-style="italic">E</tspan> - <tspan font-style="italic">E</tspan><tspan font-size="7.8" dy="2.6" font-style="normal">F</tspan><tspan dy="-2.6"> (eV)</tspan></text>
<rect x="38.2" y="394.8" width="45.9" height="71.30000000000001" fill="#f4e0e0"/>
<rect x="211.0" y="394.8" width="72.6" height="71.30000000000001" fill="#d6effb"/>
<clipPath id="clipC2"><rect x="38.2" y="394.8" width="245.40000000000003" height="72.30000000000001"/></clipPath>
<path d="M38.16 465.64L55.23 465.64L57.24 465.13L59.25 465.64L65.78 465.38L67.29 464.63L68.79 465.64L75.32 465.38L76.83 463.88L78.33 463.12L79.84 463.88L81.35 465.64L88.38 465.38L89.88 462.87L91.64 459.61L93.40 462.87L94.90 465.38L100.43 465.64L105.45 465.13L110.47 465.64L114.24 465.13L115.99 463.88L118.00 465.38L121.77 464.88L123.02 463.38L124.28 462.12L125.53 463.38L127.04 465.38L140.04 464.88L145.06 465.64L155.11 465.13L160.13 464.63L163.89 465.64L172.68 464.88L175.19 463.88L177.70 465.64L183.98 465.38L186.49 464.63L189.00 465.64L192.77 464.88L195.78 465.64L198.29 462.87L200.30 459.61L202.31 463.38L204.06 462.87L205.32 461.37L206.83 463.38L208.33 462.87L209.84 456.60L211.60 459.11L214.11 464.13L216.62 464.88L219.88 463.38L221.64 461.62L223.40 455.34L224.90 460.36L226.66 464.88L235.45 465.38L244.24 464.88L248.00 464.88L251.01 463.38L253.02 461.62L255.53 464.38L257.04 461.62L258.55 459.11L260.55 463.38L261.81 460.36L263.07 457.35L264.57 461.62L266.08 464.38L269.34 464.13L271.10 462.87L273.11 464.38L275.62 465.13L279.64 464.38L281.90 462.87L283.65 459.86" fill="none" stroke="#4a4af0" stroke-width="1.0" stroke-linejoin="round" clip-path="url(#clipC2)"/>
<line x1="211.0" y1="394.8" x2="211.0" y2="466.1" stroke="#222" stroke-width="1.1" stroke-dasharray="4.6 3"/>
<path d="M38.16 455.34L39.67 461.62L41.43 462.87L43.18 461.62L45.19 459.11L46.95 455.34L48.46 459.11L50.21 459.86L52.72 460.36L55.23 459.11L57.75 454.84L59.25 459.11L61.51 460.36L64.02 460.86L65.78 459.11L67.03 454.84L68.54 459.11L70.30 460.36L72.31 457.85L73.56 450.32L74.57 425.21L75.32 400.11L76.07 392.57L76.83 400.11L77.83 437.77L78.84 447.81L79.84 450.32L80.84 459.11L82.35 462.87L84.11 464.63L86.62 465.13L88.38 464.38L90.38 465.13L93.40 464.13L95.41 465.13L98.42 464.63L100.43 465.13L103.44 464.13L105.45 464.88L108.96 465.13L110.97 464.13L112.98 464.88L115.49 464.38L117.50 465.13L120.51 464.63L123.02 465.13L125.53 464.38L127.54 465.13L130.55 464.88L132.01 464.38L134.02 465.13L137.03 464.63L139.04 465.13L142.05 464.13L144.06 465.13L147.57 464.63L150.09 465.13L153.10 464.38L155.11 465.13L158.62 464.63L161.13 465.13L164.15 464.13L166.66 464.88L169.67 464.38L172.18 465.13L175.19 463.88L177.70 464.88L179.71 464.38L181.72 465.13L183.23 464.63L184.73 464.13L186.49 462.12L188.25 465.38L190.26 464.88L192.77 461.62L194.78 465.38L196.53 464.88L198.29 462.37L200.30 459.86L202.31 464.88L204.06 462.87L205.32 461.62L206.83 464.13L208.33 464.88L209.84 459.11L211.09 454.84L212.35 457.85L213.61 456.60L215.36 461.62L217.37 464.13L219.13 452.83L220.89 446.05L222.39 452.83L224.15 455.34L225.91 445.30L227.41 420.19L228.67 397.60L229.42 390.06L230.43 390.06L231.18 412.66L232.44 450.32L233.69 446.55L234.95 450.32L236.70 456.60L238.46 451.58L240.47 447.81L242.23 455.34L244.24 464.13L245.99 461.62L248.00 462.87L250.01 455.34L251.77 445.30L253.78 450.32L255.53 435.26L257.29 420.19L258.55 411.40L259.80 425.21L261.06 434.00L262.31 431.49L263.82 437.77L265.07 441.53L266.33 420.19L267.58 390.06L270.60 390.06L271.85 412.66L273.11 432.75L274.36 441.53L275.62 439.02L276.87 447.81L278.13 452.83L279.38 445.30L280.64 437.77L282.40 425.21L283.65 420.19" fill="none" stroke="#f01818" stroke-width="1.15" stroke-linejoin="round" clip-path="url(#clipC2)"/>
<rect x="38.2" y="394.8" width="245.40000000000003" height="71.30000000000001" fill="none" stroke="#3a3a3a" stroke-width="1.5"/>
<line x1="67.6" y1="466.1" x2="67.6" y2="462.90000000000003" stroke="#333" stroke-width="1.1"/>
<text x="66.5" y="478.7" font-size="10.7" text-anchor="middle" fill="#111">-2</text>
<line x1="139.3" y1="466.1" x2="139.3" y2="462.90000000000003" stroke="#333" stroke-width="1.1"/>
<text x="138.2" y="478.7" font-size="10.7" text-anchor="middle" fill="#111">-1</text>
<line x1="211.0" y1="466.1" x2="211.0" y2="462.90000000000003" stroke="#333" stroke-width="1.1"/>
<text x="211.0" y="478.7" font-size="10.7" text-anchor="middle" fill="#111">0</text>
<text x="282.7" y="478.7" font-size="10.7" text-anchor="middle" fill="#111">1</text>
<text x="209.0" y="387.7" font-size="11.5" fill="#111"><tspan font-style="italic">E</tspan><tspan font-size="8" dy="2.6" font-style="normal">F</tspan></text>
<line x1="114.2" y1="402.2" x2="131.3" y2="402.2" stroke="#4a4af0" stroke-width="1.0"/>
<line x1="114.2" y1="414.7" x2="131.3" y2="414.7" stroke="#f01818" stroke-width="1.1"/>
<text x="134.8" y="406.0" font-size="10.5" fill="#111">Cd</text>
<text x="134.8" y="418.3" font-size="10.5" fill="#111">MoS<tspan font-size="7.5" dy="2.4" font-style="normal">2</tspan></text>
<text x="128.0" y="453.4" font-size="10.5" fill="#111">MIGS</text>
<text x="128.8" y="493.2" font-size="11.2" fill="#111"><tspan font-style="italic">E</tspan> - <tspan font-style="italic">E</tspan><tspan font-size="7.8" dy="2.6" font-style="normal">F</tspan><tspan dy="-2.6"> (eV)</tspan></text>
<text transform="translate(25.2,375) rotate(-90)" font-size="11.2" text-anchor="middle" fill="#111">DOS (States/eV·atom)</text>
<text transform="translate(293.0,377.5) rotate(90)" font-size="11.5" text-anchor="middle" fill="#111">Contact with Cd</text>
</g>
<g id="panel-d">
<text x="329.0" y="291.5" font-size="16" font-weight="bold" fill="#000">d</text>
<text x="359.5" y="296.3" font-size="11.2" fill="#111">i</text>
<text x="349.6" y="312.1" font-size="11.2" fill="#111">Au</text>
<rect x="368.5" y="302" width="134" height="24" rx="5" fill="#fca678" filter="url(#blur3)"/>
<line x1="380.35" y1="327.2" x2="375.77" y2="322.75" stroke="#b088a8" stroke-width="1.15"/>
<line x1="375.77" y1="322.75" x2="371.20" y2="318.3" stroke="#e4dc3a" stroke-width="1.15"/>
<line x1="380.35" y1="327.2" x2="380.35" y2="322.75" stroke="#b088a8" stroke-width="1.15"/>
<line x1="380.35" y1="322.75" x2="380.35" y2="318.3" stroke="#e4dc3a" stroke-width="1.15"/>
<line x1="380.35" y1="327.2" x2="384.92" y2="322.75" stroke="#b088a8" stroke-width="1.15"/>
<line x1="384.92" y1="322.75" x2="389.50" y2="318.3" stroke="#e4dc3a" stroke-width="1.15"/>
<line x1="380.35" y1="327.2" x2="375.77" y2="331.60" stroke="#b088a8" stroke-width="1.15"/>
<line x1="375.77" y1="331.60" x2="371.20" y2="336.0" stroke="#e4dc3a" stroke-width="1.15"/>
<line x1="380.35" y1="327.2" x2="380.35" y2="331.60" stroke="#b088a8" stroke-width="1.15"/>
<line x1="380.35" y1="331.60" x2="380.35" y2="336.0" stroke="#e4dc3a" stroke-width="1.15"/>
<line x1="380.35" y1="327.2" x2="384.92" y2="331.60" stroke="#b088a8" stroke-width="1.15"/>
<line x1="384.92" y1="331.60" x2="389.50" y2="336.0" stroke="#e4dc3a" stroke-width="1.15"/>
<line x1="389.50" y1="327.2" x2="384.93" y2="322.75" stroke="#b088a8" stroke-width="1.15"/>
<line x1="384.93" y1="322.75" x2="380.35" y2="318.3" stroke="#e4dc3a" stroke-width="1.15"/>
<line x1="389.50" y1="327.2" x2="389.50" y2="322.75" stroke="#b088a8" stroke-width="1.15"/>
<line x1="389.50" y1="322.75" x2="389.50" y2="318.3" stroke="#e4dc3a" stroke-width="1.15"/>
<line x1="389.50" y1="327.2" x2="394.07" y2="322.75" stroke="#b088a8" stroke-width="1.15"/>
<line x1="394.07" y1="322.75" x2="398.65" y2="318.3" stroke="#e4dc3a" stroke-width="1.15"/>
<line x1="389.50" y1="327.2" x2="384.93" y2="331.60" stroke="#b088a8" stroke-width="1.15"/>
<line x1="384.93" y1="331.60" x2="380.35" y2="336.0" stroke="#e4dc3a" stroke-width="1.15"/>
<line x1="389.50" y1="327.2" x2="389.50" y2="331.60" stroke="#b088a8" stroke-width="1.15"/>
<line x1="389.50" y1="331.60" x2="389.50" y2="336.0" stroke="#e4dc3a" stroke-width="1.15"/>
<line x1="389.50" y1="327.2" x2="394.07" y2="331.60" stroke="#b088a8" stroke-width="1.15"/>
<line x1="394.07" y1="331.60" x2="398.65" y2="336.0" stroke="#e4dc3a" stroke-width="1.15"/>
<line x1="398.65" y1="327.2" x2="394.07" y2="322.75" stroke="#b088a8" stroke-width="1.15"/>
<line x1="394.07" y1="322.75" x2="389.50" y2="318.3" stroke="#e4dc3a" stroke-width="1.15"/>
<line x1="398.65" y1="327.2" x2="398.65" y2="322.75" stroke="#b088a8" stroke-width="1.15"/>
<line x1="398.65" y1="322.75" x2="398.65" y2="318.3" stroke="#e4dc3a" stroke-width="1.15"/>
<line x1="398.65" y1="327.2" x2="403.22" y2="322.75" stroke="#b088a8" stroke-width="1.15"/>
<line x1="403.22" y1="322.75" x2="407.80" y2="318.3" stroke="#e4dc3a" stroke-width="1.15"/>
<line x1="398.65" y1="327.2" x2="394.07" y2="331.60" stroke="#b088a8" stroke-width="1.15"/>
<line x1="394.07" y1="331.60" x2="389.50" y2="336.0" stroke="#e4dc3a" stroke-width="1.15"/>
<line x1="398.65" y1="327.2" x2="398.65" y2="331.60" stroke="#b088a8" stroke-width="1.15"/>
<line x1="398.65" y1="331.60" x2="398.65" y2="336.0" stroke="#e4dc3a" stroke-width="1.15"/>
<line x1="398.65" y1="327.2" x2="403.22" y2="331.60" stroke="#b088a8" stroke-width="1.15"/>
<line x1="403.22" y1="331.60" x2="407.80" y2="336.0" stroke="#e4dc3a" stroke-width="1.15"/>
<line x1="407.80" y1="327.2" x2="403.23" y2="322.75" stroke="#b088a8" stroke-width="1.15"/>
<line x1="403.23" y1="322.75" x2="398.65" y2="318.3" stroke="#e4dc3a" stroke-width="1.15"/>
<line x1="407.80" y1="327.2" x2="407.80" y2="322.75" stroke="#b088a8" stroke-width="1.15"/>
<line x1="407.80" y1="322.75" x2="407.80" y2="318.3" stroke="#e4dc3a" stroke-width="1.15"/>
<line x1="407.80" y1="327.2" x2="412.38" y2="322.75" stroke="#b088a8" stroke-width="1.15"/>
<line x1="412.38" y1="322.75" x2="416.95" y2="318.3" stroke="#e4dc3a" stroke-width="1.15"/>
<line x1="407.80" y1="327.2" x2="403.23" y2="331.60" stroke="#b088a8" stroke-width="1.15"/>
<line x1="403.23" y1="331.60" x2="398.65" y2="336.0" stroke="#e4dc3a" stroke-width="1.15"/>
<line x1="407.80" y1="327.2" x2="407.80" y2="331.60" stroke="#b088a8" stroke-width="1.15"/>
<line x1="407.80" y1="331.60" x2="407.80" y2="336.0" stroke="#e4dc3a" stroke-width="1.15"/>
<line x1="407.80" y1="327.2" x2="412.38" y2="331.60" stroke="#b088a8" stroke-width="1.15"/>
<line x1="412.38" y1="331.60" x2="416.95" y2="336.0" stroke="#e4dc3a" stroke-width="1.15"/>
<line x1="416.95" y1="327.2" x2="412.38" y2="322.75" stroke="#b088a8" stroke-width="1.15"/>
<line x1="412.38" y1="322.75" x2="407.80" y2="318.3" stroke="#e4dc3a" stroke-width="1.15"/>
<line x1="416.95" y1="327.2" x2="416.95" y2="322.75" stroke="#b088a8" stroke-width="1.15"/>
<line x1="416.95" y1="322.75" x2="416.95" y2="318.3" stroke="#e4dc3a" stroke-width="1.15"/>
<line x1="416.95" y1="327.2" x2="421.52" y2="322.75" stroke="#b088a8" stroke-width="1.15"/>
<line x1="421.52" y1="322.75" x2="426.10" y2="318.3" stroke="#e4dc3a" stroke-width="1.15"/>
<line x1="416.95" y1="327.2" x2="412.38" y2="331.60" stroke="#b088a8" stroke-width="1.15"/>
<line x1="412.38" y1="331.60" x2="407.80" y2="336.0" stroke="#e4dc3a" stroke-width="1.15"/>
<line x1="416.95" y1="327.2" x2="416.95" y2="331.60" stroke="#b088a8" stroke-width="1.15"/>
<line x1="416.95" y1="331.60" x2="416.95" y2="336.0" stroke="#e4dc3a" stroke-width="1.15"/>
<line x1="416.95" y1="327.2" x2="421.52" y2="331.60" stroke="#b088a8" stroke-width="1.15"/>
<line x1="421.52" y1="331.60" x2="426.10" y2="336.0" stroke="#e4dc3a" stroke-width="1.15"/>
<line x1="426.10" y1="327.2" x2="421.53" y2="322.75" stroke="#b088a8" stroke-width="1.15"/>
<line x1="421.53" y1="322.75" x2="416.95" y2="318.3" stroke="#e4dc3a" stroke-width="1.15"/>
<line x1="426.10" y1="327.2" x2="426.10" y2="322.75" stroke="#b088a8" stroke-width="1.15"/>
<line x1="426.10" y1="322.75" x2="426.10" y2="318.3" stroke="#e4dc3a" stroke-width="1.15"/>
<line x1="426.10" y1="327.2" x2="430.68" y2="322.75" stroke="#b088a8" stroke-width="1.15"/>
<line x1="430.68" y1="322.75" x2="435.25" y2="318.3" stroke="#e4dc3a" stroke-width="1.15"/>
<line x1="426.10" y1="327.2" x2="421.53" y2="331.60" stroke="#b088a8" stroke-width="1.15"/>
<line x1="421.53" y1="331.60" x2="416.95" y2="336.0" stroke="#e4dc3a" stroke-width="1.15"/>
<line x1="426.10" y1="327.2" x2="426.10" y2="331.60" stroke="#b088a8" stroke-width="1.15"/>
<line x1="426.10" y1="331.60" x2="426.10" y2="336.0" stroke="#e4dc3a" stroke-width="1.15"/>
<line x1="426.10" y1="327.2" x2="430.68" y2="331.60" stroke="#b088a8" stroke-width="1.15"/>
<line x1="430.68" y1="331.60" x2="435.25" y2="336.0" stroke="#e4dc3a" stroke-width="1.15"/>
<line x1="435.25" y1="327.2" x2="430.68" y2="322.75" stroke="#b088a8" stroke-width="1.15"/>
<line x1="430.68" y1="322.75" x2="426.10" y2="318.3" stroke="#e4dc3a" stroke-width="1.15"/>
<line x1="435.25" y1="327.2" x2="435.25" y2="322.75" stroke="#b088a8" stroke-width="1.15"/>
<line x1="435.25" y1="322.75" x2="435.25" y2="318.3" stroke="#e4dc3a" stroke-width="1.15"/>
<line x1="435.25" y1="327.2" x2="439.82" y2="322.75" stroke="#b088a8" stroke-width="1.15"/>
<line x1="439.82" y1="322.75" x2="444.40" y2="318.3" stroke="#e4dc3a" stroke-width="1.15"/>
<line x1="435.25" y1="327.2" x2="430.68" y2="331.60" stroke="#b088a8" stroke-width="1.15"/>
<line x1="430.68" y1="331.60" x2="426.10" y2="336.0" stroke="#e4dc3a" stroke-width="1.15"/>
<line x1="435.25" y1="327.2" x2="435.25" y2="331.60" stroke="#b088a8" stroke-width="1.15"/>
<line x1="435.25" y1="331.60" x2="435.25" y2="336.0" stroke="#e4dc3a" stroke-width="1.15"/>
<line x1="435.25" y1="327.2" x2="439.82" y2="331.60" stroke="#b088a8" stroke-width="1.15"/>
<line x1="439.82" y1="331.60" x2="444.40" y2="336.0" stroke="#e4dc3a" stroke-width="1.15"/>
<line x1="444.40" y1="327.2" x2="439.82" y2="322.75" stroke="#b088a8" stroke-width="1.15"/>
<line x1="439.82" y1="322.75" x2="435.25" y2="318.3" stroke="#e4dc3a" stroke-width="1.15"/>
<line x1="444.40" y1="327.2" x2="444.40" y2="322.75" stroke="#b088a8" stroke-width="1.15"/>
<line x1="444.40" y1="322.75" x2="444.40" y2="318.3" stroke="#e4dc3a" stroke-width="1.15"/>
<line x1="444.40" y1="327.2" x2="448.97" y2="322.75" stroke="#b088a8" stroke-width="1.15"/>
<line x1="448.97" y1="322.75" x2="453.55" y2="318.3" stroke="#e4dc3a" stroke-width="1.15"/>
<line x1="444.40" y1="327.2" x2="439.82" y2="331.60" stroke="#b088a8" stroke-width="1.15"/>
<line x1="439.82" y1="331.60" x2="435.25" y2="336.0" stroke="#e4dc3a" stroke-width="1.15"/>
<line x1="444.40" y1="327.2" x2="444.40" y2="331.60" stroke="#b088a8" stroke-width="1.15"/>
<line x1="444.40" y1="331.60" x2="444.40" y2="336.0" stroke="#e4dc3a" stroke-width="1.15"/>
<line x1="444.40" y1="327.2" x2="448.97" y2="331.60" stroke="#b088a8" stroke-width="1.15"/>
<line x1="448.97" y1="331.60" x2="453.55" y2="336.0" stroke="#e4dc3a" stroke-width="1.15"/>
<line x1="453.55" y1="327.2" x2="448.98" y2="322.75" stroke="#b088a8" stroke-width="1.15"/>
<line x1="448.98" y1="322.75" x2="444.40" y2="318.3" stroke="#e4dc3a" stroke-width="1.15"/>
<line x1="453.55" y1="327.2" x2="453.55" y2="322.75" stroke="#b088a8" stroke-width="1.15"/>
<line x1="453.55" y1="322.75" x2="453.55" y2="318.3" stroke="#e4dc3a" stroke-width="1.15"/>
<line x1="453.55" y1="327.2" x2="458.12" y2="322.75" stroke="#b088a8" stroke-width="1.15"/>
<line x1="458.12" y1="322.75" x2="462.70" y2="318.3" stroke="#e4dc3a" stroke-width="1.15"/>
<line x1="453.55" y1="327.2" x2="448.98" y2="331.60" stroke="#b088a8" stroke-width="1.15"/>
<line x1="448.98" y1="331.60" x2="444.40" y2="336.0" stroke="#e4dc3a" stroke-width="1.15"/>
<line x1="453.55" y1="327.2" x2="453.55" y2="331.60" stroke="#b088a8" stroke-width="1.15"/>
<line x1="453.55" y1="331.60" x2="453.55" y2="336.0" stroke="#e4dc3a" stroke-width="1.15"/>
<line x1="453.55" y1="327.2" x2="458.12" y2="331.60" stroke="#b088a8" stroke-width="1.15"/>
<line x1="458.12" y1="331.60" x2="462.70" y2="336.0" stroke="#e4dc3a" stroke-width="1.15"/>
<line x1="462.70" y1="327.2" x2="458.12" y2="322.75" stroke="#b088a8" stroke-width="1.15"/>
<line x1="458.12" y1="322.75" x2="453.55" y2="318.3" stroke="#e4dc3a" stroke-width="1.15"/>
<line x1="462.70" y1="327.2" x2="462.70" y2="322.75" stroke="#b088a8" stroke-width="1.15"/>
<line x1="462.70" y1="322.75" x2="462.70" y2="318.3" stroke="#e4dc3a" stroke-width="1.15"/>
<line x1="462.70" y1="327.2" x2="467.27" y2="322.75" stroke="#b088a8" stroke-width="1.15"/>
<line x1="467.27" y1="322.75" x2="471.85" y2="318.3" stroke="#e4dc3a" stroke-width="1.15"/>
<line x1="462.70" y1="327.2" x2="458.12" y2="331.60" stroke="#b088a8" stroke-width="1.15"/>
<line x1="458.12" y1="331.60" x2="453.55" y2="336.0" stroke="#e4dc3a" stroke-width="1.15"/>
<line x1="462.70" y1="327.2" x2="462.70" y2="331.60" stroke="#b088a8" stroke-width="1.15"/>
<line x1="462.70" y1="331.60" x2="462.70" y2="336.0" stroke="#e4dc3a" stroke-width="1.15"/>
<line x1="462.70" y1="327.2" x2="467.27" y2="331.60" stroke="#b088a8" stroke-width="1.15"/>
<line x1="467.27" y1="331.60" x2="471.85" y2="336.0" stroke="#e4dc3a" stroke-width="1.15"/>
<line x1="471.85" y1="327.2" x2="467.28" y2="322.75" stroke="#b088a8" stroke-width="1.15"/>
<line x1="467.28" y1="322.75" x2="462.70" y2="318.3" stroke="#e4dc3a" stroke-width="1.15"/>
<line x1="471.85" y1="327.2" x2="471.85" y2="322.75" stroke="#b088a8" stroke-width="1.15"/>
<line x1="471.85" y1="322.75" x2="471.85" y2="318.3" stroke="#e4dc3a" stroke-width="1.15"/>
<line x1="471.85" y1="327.2" x2="476.43" y2="322.75" stroke="#b088a8" stroke-width="1.15"/>
<line x1="476.43" y1="322.75" x2="481.00" y2="318.3" stroke="#e4dc3a" stroke-width="1.15"/>
<line x1="471.85" y1="327.2" x2="467.28" y2="331.60" stroke="#b088a8" stroke-width="1.15"/>
<line x1="467.28" y1="331.60" x2="462.70" y2="336.0" stroke="#e4dc3a" stroke-width="1.15"/>
<line x1="471.85" y1="327.2" x2="471.85" y2="331.60" stroke="#b088a8" stroke-width="1.15"/>
<line x1="471.85" y1="331.60" x2="471.85" y2="336.0" stroke="#e4dc3a" stroke-width="1.15"/>
<line x1="471.85" y1="327.2" x2="476.43" y2="331.60" stroke="#b088a8" stroke-width="1.15"/>
<line x1="476.43" y1="331.60" x2="481.00" y2="336.0" stroke="#e4dc3a" stroke-width="1.15"/>
<line x1="481.00" y1="327.2" x2="476.43" y2="322.75" stroke="#b088a8" stroke-width="1.15"/>
<line x1="476.43" y1="322.75" x2="471.85" y2="318.3" stroke="#e4dc3a" stroke-width="1.15"/>
<line x1="481.00" y1="327.2" x2="481.00" y2="322.75" stroke="#b088a8" stroke-width="1.15"/>
<line x1="481.00" y1="322.75" x2="481.00" y2="318.3" stroke="#e4dc3a" stroke-width="1.15"/>
<line x1="481.00" y1="327.2" x2="485.57" y2="322.75" stroke="#b088a8" stroke-width="1.15"/>
<line x1="485.57" y1="322.75" x2="490.15" y2="318.3" stroke="#e4dc3a" stroke-width="1.15"/>
<line x1="481.00" y1="327.2" x2="476.43" y2="331.60" stroke="#b088a8" stroke-width="1.15"/>
<line x1="476.43" y1="331.60" x2="471.85" y2="336.0" stroke="#e4dc3a" stroke-width="1.15"/>
<line x1="481.00" y1="327.2" x2="481.00" y2="331.60" stroke="#b088a8" stroke-width="1.15"/>
<line x1="481.00" y1="331.60" x2="481.00" y2="336.0" stroke="#e4dc3a" stroke-width="1.15"/>
<line x1="481.00" y1="327.2" x2="485.57" y2="331.60" stroke="#b088a8" stroke-width="1.15"/>
<line x1="485.57" y1="331.60" x2="490.15" y2="336.0" stroke="#e4dc3a" stroke-width="1.15"/>
<line x1="490.15" y1="327.2" x2="485.57" y2="322.75" stroke="#b088a8" stroke-width="1.15"/>
<line x1="485.57" y1="322.75" x2="481.00" y2="318.3" stroke="#e4dc3a" stroke-width="1.15"/>
<line x1="490.15" y1="327.2" x2="490.15" y2="322.75" stroke="#b088a8" stroke-width="1.15"/>
<line x1="490.15" y1="322.75" x2="490.15" y2="318.3" stroke="#e4dc3a" stroke-width="1.15"/>
<line x1="490.15" y1="327.2" x2="494.72" y2="322.75" stroke="#b088a8" stroke-width="1.15"/>
<line x1="494.72" y1="322.75" x2="499.30" y2="318.3" stroke="#e4dc3a" stroke-width="1.15"/>
<line x1="490.15" y1="327.2" x2="485.57" y2="331.60" stroke="#b088a8" stroke-width="1.15"/>
<line x1="485.57" y1="331.60" x2="481.00" y2="336.0" stroke="#e4dc3a" stroke-width="1.15"/>
<line x1="490.15" y1="327.2" x2="490.15" y2="331.60" stroke="#b088a8" stroke-width="1.15"/>
<line x1="490.15" y1="331.60" x2="490.15" y2="336.0" stroke="#e4dc3a" stroke-width="1.15"/>
<line x1="490.15" y1="327.2" x2="494.72" y2="331.60" stroke="#b088a8" stroke-width="1.15"/>
<line x1="494.72" y1="331.60" x2="499.30" y2="336.0" stroke="#e4dc3a" stroke-width="1.15"/>
<circle cx="371.20" cy="318.30" r="2.3" fill="url(#gS)"/>
<circle cx="371.20" cy="336.00" r="2.3" fill="url(#gS)"/>
<circle cx="380.35" cy="318.30" r="2.3" fill="url(#gS)"/>
<circle cx="380.35" cy="336.00" r="2.3" fill="url(#gS)"/>
<circle cx="389.50" cy="318.30" r="2.3" fill="url(#gS)"/>
<circle cx="389.50" cy="336.00" r="2.3" fill="url(#gS)"/>
<circle cx="398.65" cy="318.30" r="2.3" fill="url(#gS)"/>
<circle cx="398.65" cy="336.00" r="2.3" fill="url(#gS)"/>
<circle cx="407.80" cy="318.30" r="2.3" fill="url(#gS)"/>
<circle cx="407.80" cy="336.00" r="2.3" fill="url(#gS)"/>
<circle cx="416.95" cy="318.30" r="2.3" fill="url(#gS)"/>
<circle cx="416.95" cy="336.00" r="2.3" fill="url(#gS)"/>
<circle cx="426.10" cy="318.30" r="2.3" fill="url(#gS)"/>
<circle cx="426.10" cy="336.00" r="2.3" fill="url(#gS)"/>
<circle cx="435.25" cy="318.30" r="2.3" fill="url(#gS)"/>
<circle cx="435.25" cy="336.00" r="2.3" fill="url(#gS)"/>
<circle cx="444.40" cy="318.30" r="2.3" fill="url(#gS)"/>
<circle cx="444.40" cy="336.00" r="2.3" fill="url(#gS)"/>
<circle cx="453.55" cy="318.30" r="2.3" fill="url(#gS)"/>
<circle cx="453.55" cy="336.00" r="2.3" fill="url(#gS)"/>
<circle cx="462.70" cy="318.30" r="2.3" fill="url(#gS)"/>
<circle cx="462.70" cy="336.00" r="2.3" fill="url(#gS)"/>
<circle cx="471.85" cy="318.30" r="2.3" fill="url(#gS)"/>
<circle cx="471.85" cy="336.00" r="2.3" fill="url(#gS)"/>
<circle cx="481.00" cy="318.30" r="2.3" fill="url(#gS)"/>
<circle cx="481.00" cy="336.00" r="2.3" fill="url(#gS)"/>
<circle cx="490.15" cy="318.30" r="2.3" fill="url(#gS)"/>
<circle cx="490.15" cy="336.00" r="2.3" fill="url(#gS)"/>
<circle cx="499.30" cy="318.30" r="2.3" fill="url(#gS)"/>
<circle cx="499.30" cy="336.00" r="2.3" fill="url(#gS)"/>
<circle cx="380.35" cy="327.2" r="3.2" fill="url(#gMoRing)"/>
<circle cx="389.50" cy="327.2" r="3.2" fill="url(#gMoRing)"/>
<circle cx="398.65" cy="327.2" r="3.2" fill="url(#gMoRing)"/>
<circle cx="407.80" cy="327.2" r="3.2" fill="url(#gMoRing)"/>
<circle cx="416.95" cy="327.2" r="3.2" fill="url(#gMoRing)"/>
<circle cx="426.10" cy="327.2" r="3.2" fill="url(#gMoRing)"/>
<circle cx="435.25" cy="327.2" r="3.2" fill="url(#gMoRing)"/>
<circle cx="444.40" cy="327.2" r="3.2" fill="url(#gMoRing)"/>
<circle cx="453.55" cy="327.2" r="3.2" fill="url(#gMoRing)"/>
<circle cx="462.70" cy="327.2" r="3.2" fill="url(#gMoRing)"/>
<circle cx="471.85" cy="327.2" r="3.2" fill="url(#gMoRing)"/>
<circle cx="481.00" cy="327.2" r="3.2" fill="url(#gMoRing)"/>
<circle cx="490.15" cy="327.2" r="3.2" fill="url(#gMoRing)"/>
<circle cx="374.20" cy="287.10" r="4.05" fill="url(#gAu)"/>
<circle cx="381.99" cy="287.10" r="4.05" fill="url(#gAu)"/>
<circle cx="389.78" cy="287.10" r="4.05" fill="url(#gAu)"/>
<circle cx="397.57" cy="287.10" r="4.05" fill="url(#gAu)"/>
<circle cx="405.36" cy="287.10" r="4.05" fill="url(#gAu)"/>
<circle cx="413.15" cy="287.10" r="4.05" fill="url(#gAu)"/>
<circle cx="420.94" cy="287.10" r="4.05" fill="url(#gAu)"/>
<circle cx="428.73" cy="287.10" r="4.05" fill="url(#gAu)"/>
<circle cx="436.52" cy="287.10" r="4.05" fill="url(#gAu)"/>
<circle cx="444.31" cy="287.10" r="4.05" fill="url(#gAu)"/>
<circle cx="452.10" cy="287.10" r="4.05" fill="url(#gAu)"/>
<circle cx="459.89" cy="287.10" r="4.05" fill="url(#gAu)"/>
<circle cx="467.68" cy="287.10" r="4.05" fill="url(#gAu)"/>
<circle cx="475.47" cy="287.10" r="4.05" fill="url(#gAu)"/>
<circle cx="483.26" cy="287.10" r="4.05" fill="url(#gAu)"/>
<circle cx="491.05" cy="287.10" r="4.05" fill="url(#gAu)"/>
<circle cx="498.84" cy="287.10" r="4.05" fill="url(#gAu)"/>
<circle cx="374.20" cy="295.80" r="4.05" fill="url(#gAu)"/>
<circle cx="381.99" cy="295.80" r="4.05" fill="url(#gAu)"/>
<circle cx="389.78" cy="295.80" r="4.05" fill="url(#gAu)"/>
<circle cx="397.57" cy="295.80" r="4.05" fill="url(#gAu)"/>
<circle cx="405.36" cy="295.80" r="4.05" fill="url(#gAu)"/>
<circle cx="413.15" cy="295.80" r="4.05" fill="url(#gAu)"/>
<circle cx="420.94" cy="295.80" r="4.05" fill="url(#gAu)"/>
<circle cx="428.73" cy="295.80" r="4.05" fill="url(#gAu)"/>
<circle cx="436.52" cy="295.80" r="4.05" fill="url(#gAu)"/>
<circle cx="444.31" cy="295.80" r="4.05" fill="url(#gAu)"/>
<circle cx="452.10" cy="295.80" r="4.05" fill="url(#gAu)"/>
<circle cx="459.89" cy="295.80" r="4.05" fill="url(#gAu)"/>
<circle cx="467.68" cy="295.80" r="4.05" fill="url(#gAu)"/>
<circle cx="475.47" cy="295.80" r="4.05" fill="url(#gAu)"/>
<circle cx="483.26" cy="295.80" r="4.05" fill="url(#gAu)"/>
<circle cx="491.05" cy="295.80" r="4.05" fill="url(#gAu)"/>
<circle cx="498.84" cy="295.80" r="4.05" fill="url(#gAu)"/>
<circle cx="374.20" cy="304.50" r="4.05" fill="url(#gAu)"/>
<circle cx="381.99" cy="304.50" r="4.05" fill="url(#gAu)"/>
<circle cx="389.78" cy="304.50" r="4.05" fill="url(#gAu)"/>
<circle cx="397.57" cy="304.50" r="4.05" fill="url(#gAu)"/>
<circle cx="405.36" cy="304.50" r="4.05" fill="url(#gAu)"/>
<circle cx="413.15" cy="304.50" r="4.05" fill="url(#gAu)"/>
<circle cx="420.94" cy="304.50" r="4.05" fill="url(#gAu)"/>
<circle cx="428.73" cy="304.50" r="4.05" fill="url(#gAu)"/>
<circle cx="436.52" cy="304.50" r="4.05" fill="url(#gAu)"/>
<circle cx="444.31" cy="304.50" r="4.05" fill="url(#gAu)"/>
<circle cx="452.10" cy="304.50" r="4.05" fill="url(#gAu)"/>
<circle cx="459.89" cy="304.50" r="4.05" fill="url(#gAu)"/>
<circle cx="467.68" cy="304.50" r="4.05" fill="url(#gAu)"/>
<circle cx="475.47" cy="304.50" r="4.05" fill="url(#gAu)"/>
<circle cx="483.26" cy="304.50" r="4.05" fill="url(#gAu)"/>
<circle cx="491.05" cy="304.50" r="4.05" fill="url(#gAu)"/>
<circle cx="498.84" cy="304.50" r="4.05" fill="url(#gAu)"/>
<circle cx="390.50" cy="312.80" r="4.05" fill="url(#gAu)"/>
<circle cx="379.30" cy="316.70" r="4.05" fill="url(#gAu)"/>
<circle cx="401.80" cy="316.10" r="4.05" fill="url(#gAu)"/>
<circle cx="411.00" cy="319.40" r="4.05" fill="url(#gAu)"/>
<circle cx="388.00" cy="323.40" r="4.05" fill="url(#gAu)"/>
<circle cx="422.40" cy="312.20" r="4.05" fill="url(#gAu)"/>
<circle cx="436.20" cy="311.80" r="4.05" fill="url(#gAu)"/>
<circle cx="447.80" cy="314.40" r="4.05" fill="url(#gAu)"/>
<circle cx="457.50" cy="314.00" r="4.05" fill="url(#gAu)"/>
<circle cx="467.00" cy="317.50" r="4.05" fill="url(#gAu)"/>
<circle cx="474.00" cy="311.80" r="4.05" fill="url(#gAu)"/>
<circle cx="485.00" cy="317.80" r="4.05" fill="url(#gAu)"/>
<circle cx="490.80" cy="312.00" r="4.05" fill="url(#gAu)"/>
<text x="526.3" y="295.8" font-size="11.2" fill="#111">ii</text>
<text x="518.0" y="312.7" font-size="11.2" fill="#111">Cd</text>
<rect x="539.5" y="300" width="133.5" height="17.5" fill="url(#gPinkGlow)" filter="url(#blur1)"/>
<line x1="550.97" y1="327.8" x2="546.38" y2="323.40" stroke="#b088a8" stroke-width="1.15"/>
<line x1="546.38" y1="323.40" x2="541.80" y2="319.0" stroke="#e4dc3a" stroke-width="1.15"/>
<line x1="550.97" y1="327.8" x2="550.97" y2="323.40" stroke="#b088a8" stroke-width="1.15"/>
<line x1="550.97" y1="323.40" x2="550.97" y2="319.0" stroke="#e4dc3a" stroke-width="1.15"/>
<line x1="550.97" y1="327.8" x2="555.55" y2="323.40" stroke="#b088a8" stroke-width="1.15"/>
<line x1="555.55" y1="323.40" x2="560.14" y2="319.0" stroke="#e4dc3a" stroke-width="1.15"/>
<line x1="550.97" y1="327.8" x2="546.38" y2="332.35" stroke="#b088a8" stroke-width="1.15"/>
<line x1="546.38" y1="332.35" x2="541.80" y2="336.9" stroke="#e4dc3a" stroke-width="1.15"/>
<line x1="550.97" y1="327.8" x2="550.97" y2="332.35" stroke="#b088a8" stroke-width="1.15"/>
<line x1="550.97" y1="332.35" x2="550.97" y2="336.9" stroke="#e4dc3a" stroke-width="1.15"/>
<line x1="550.97" y1="327.8" x2="555.55" y2="332.35" stroke="#b088a8" stroke-width="1.15"/>
<line x1="555.55" y1="332.35" x2="560.14" y2="336.9" stroke="#e4dc3a" stroke-width="1.15"/>
<line x1="560.14" y1="327.8" x2="555.56" y2="323.40" stroke="#b088a8" stroke-width="1.15"/>
<line x1="555.56" y1="323.40" x2="550.97" y2="319.0" stroke="#e4dc3a" stroke-width="1.15"/>
<line x1="560.14" y1="327.8" x2="560.14" y2="323.40" stroke="#b088a8" stroke-width="1.15"/>
<line x1="560.14" y1="323.40" x2="560.14" y2="319.0" stroke="#e4dc3a" stroke-width="1.15"/>
<line x1="560.14" y1="327.8" x2="564.72" y2="323.40" stroke="#b088a8" stroke-width="1.15"/>
<line x1="564.72" y1="323.40" x2="569.31" y2="319.0" stroke="#e4dc3a" stroke-width="1.15"/>
<line x1="560.14" y1="327.8" x2="555.56" y2="332.35" stroke="#b088a8" stroke-width="1.15"/>
<line x1="555.56" y1="332.35" x2="550.97" y2="336.9" stroke="#e4dc3a" stroke-width="1.15"/>
<line x1="560.14" y1="327.8" x2="560.14" y2="332.35" stroke="#b088a8" stroke-width="1.15"/>
<line x1="560.14" y1="332.35" x2="560.14" y2="336.9" stroke="#e4dc3a" stroke-width="1.15"/>
<line x1="560.14" y1="327.8" x2="564.72" y2="332.35" stroke="#b088a8" stroke-width="1.15"/>
<line x1="564.72" y1="332.35" x2="569.31" y2="336.9" stroke="#e4dc3a" stroke-width="1.15"/>
<line x1="569.31" y1="327.8" x2="564.72" y2="323.40" stroke="#b088a8" stroke-width="1.15"/>
<line x1="564.72" y1="323.40" x2="560.14" y2="319.0" stroke="#e4dc3a" stroke-width="1.15"/>
<line x1="569.31" y1="327.8" x2="569.31" y2="323.40" stroke="#b088a8" stroke-width="1.15"/>
<line x1="569.31" y1="323.40" x2="569.31" y2="319.0" stroke="#e4dc3a" stroke-width="1.15"/>
<line x1="569.31" y1="327.8" x2="573.89" y2="323.40" stroke="#b088a8" stroke-width="1.15"/>
<line x1="573.89" y1="323.40" x2="578.48" y2="319.0" stroke="#e4dc3a" stroke-width="1.15"/>
<line x1="569.31" y1="327.8" x2="564.72" y2="332.35" stroke="#b088a8" stroke-width="1.15"/>
<line x1="564.72" y1="332.35" x2="560.14" y2="336.9" stroke="#e4dc3a" stroke-width="1.15"/>
<line x1="569.31" y1="327.8" x2="569.31" y2="332.35" stroke="#b088a8" stroke-width="1.15"/>
<line x1="569.31" y1="332.35" x2="569.31" y2="336.9" stroke="#e4dc3a" stroke-width="1.15"/>
<line x1="569.31" y1="327.8" x2="573.89" y2="332.35" stroke="#b088a8" stroke-width="1.15"/>
<line x1="573.89" y1="332.35" x2="578.48" y2="336.9" stroke="#e4dc3a" stroke-width="1.15"/>
<line x1="578.48" y1="327.8" x2="573.89" y2="323.40" stroke="#b088a8" stroke-width="1.15"/>
<line x1="573.89" y1="323.40" x2="569.31" y2="319.0" stroke="#e4dc3a" stroke-width="1.15"/>
<line x1="578.48" y1="327.8" x2="578.48" y2="323.40" stroke="#b088a8" stroke-width="1.15"/>
<line x1="578.48" y1="323.40" x2="578.48" y2="319.0" stroke="#e4dc3a" stroke-width="1.15"/>
<line x1="578.48" y1="327.8" x2="583.06" y2="323.40" stroke="#b088a8" stroke-width="1.15"/>
<line x1="583.06" y1="323.40" x2="587.65" y2="319.0" stroke="#e4dc3a" stroke-width="1.15"/>
<line x1="578.48" y1="327.8" x2="573.89" y2="332.35" stroke="#b088a8" stroke-width="1.15"/>
<line x1="573.89" y1="332.35" x2="569.31" y2="336.9" stroke="#e4dc3a" stroke-width="1.15"/>
<line x1="578.48" y1="327.8" x2="578.48" y2="332.35" stroke="#b088a8" stroke-width="1.15"/>
<line x1="578.48" y1="332.35" x2="578.48" y2="336.9" stroke="#e4dc3a" stroke-width="1.15"/>
<line x1="578.48" y1="327.8" x2="583.06" y2="332.35" stroke="#b088a8" stroke-width="1.15"/>
<line x1="583.06" y1="332.35" x2="587.65" y2="336.9" stroke="#e4dc3a" stroke-width="1.15"/>
<line x1="587.65" y1="327.8" x2="583.07" y2="323.40" stroke="#b088a8" stroke-width="1.15"/>
<line x1="583.07" y1="323.40" x2="578.48" y2="319.0" stroke="#e4dc3a" stroke-width="1.15"/>
<line x1="587.65" y1="327.8" x2="587.65" y2="323.40" stroke="#b088a8" stroke-width="1.15"/>
<line x1="587.65" y1="323.40" x2="587.65" y2="319.0" stroke="#e4dc3a" stroke-width="1.15"/>
<line x1="587.65" y1="327.8" x2="592.23" y2="323.40" stroke="#b088a8" stroke-width="1.15"/>
<line x1="592.23" y1="323.40" x2="596.82" y2="319.0" stroke="#e4dc3a" stroke-width="1.15"/>
<line x1="587.65" y1="327.8" x2="583.07" y2="332.35" stroke="#b088a8" stroke-width="1.15"/>
<line x1="583.07" y1="332.35" x2="578.48" y2="336.9" stroke="#e4dc3a" stroke-width="1.15"/>
<line x1="587.65" y1="327.8" x2="587.65" y2="332.35" stroke="#b088a8" stroke-width="1.15"/>
<line x1="587.65" y1="332.35" x2="587.65" y2="336.9" stroke="#e4dc3a" stroke-width="1.15"/>
<line x1="587.65" y1="327.8" x2="592.23" y2="332.35" stroke="#b088a8" stroke-width="1.15"/>
<line x1="592.23" y1="332.35" x2="596.82" y2="336.9" stroke="#e4dc3a" stroke-width="1.15"/>
<line x1="596.82" y1="327.8" x2="592.23" y2="323.40" stroke="#b088a8" stroke-width="1.15"/>
<line x1="592.23" y1="323.40" x2="587.65" y2="319.0" stroke="#e4dc3a" stroke-width="1.15"/>
<line x1="596.82" y1="327.8" x2="596.82" y2="323.40" stroke="#b088a8" stroke-width="1.15"/>
<line x1="596.82" y1="323.40" x2="596.82" y2="319.0" stroke="#e4dc3a" stroke-width="1.15"/>
<line x1="596.82" y1="327.8" x2="601.40" y2="323.40" stroke="#b088a8" stroke-width="1.15"/>
<line x1="601.40" y1="323.40" x2="605.99" y2="319.0" stroke="#e4dc3a" stroke-width="1.15"/>
<line x1="596.82" y1="327.8" x2="592.23" y2="332.35" stroke="#b088a8" stroke-width="1.15"/>
<line x1="592.23" y1="332.35" x2="587.65" y2="336.9" stroke="#e4dc3a" stroke-width="1.15"/>
<line x1="596.82" y1="327.8" x2="596.82" y2="332.35" stroke="#b088a8" stroke-width="1.15"/>
<line x1="596.82" y1="332.35" x2="596.82" y2="336.9" stroke="#e4dc3a" stroke-width="1.15"/>
<line x1="596.82" y1="327.8" x2="601.40" y2="332.35" stroke="#b088a8" stroke-width="1.15"/>
<line x1="601.40" y1="332.35" x2="605.99" y2="336.9" stroke="#e4dc3a" stroke-width="1.15"/>
<line x1="605.99" y1="327.8" x2="601.40" y2="323.40" stroke="#b088a8" stroke-width="1.15"/>
<line x1="601.40" y1="323.40" x2="596.82" y2="319.0" stroke="#e4dc3a" stroke-width="1.15"/>
<line x1="605.99" y1="327.8" x2="605.99" y2="323.40" stroke="#b088a8" stroke-width="1.15"/>
<line x1="605.99" y1="323.40" x2="605.99" y2="319.0" stroke="#e4dc3a" stroke-width="1.15"/>
<line x1="605.99" y1="327.8" x2="610.58" y2="323.40" stroke="#b088a8" stroke-width="1.15"/>
<line x1="610.58" y1="323.40" x2="615.16" y2="319.0" stroke="#e4dc3a" stroke-width="1.15"/>
<line x1="605.99" y1="327.8" x2="601.40" y2="332.35" stroke="#b088a8" stroke-width="1.15"/>
<line x1="601.40" y1="332.35" x2="596.82" y2="336.9" stroke="#e4dc3a" stroke-width="1.15"/>
<line x1="605.99" y1="327.8" x2="605.99" y2="332.35" stroke="#b088a8" stroke-width="1.15"/>
<line x1="605.99" y1="332.35" x2="605.99" y2="336.9" stroke="#e4dc3a" stroke-width="1.15"/>
<line x1="605.99" y1="327.8" x2="610.58" y2="332.35" stroke="#b088a8" stroke-width="1.15"/>
<line x1="610.58" y1="332.35" x2="615.16" y2="336.9" stroke="#e4dc3a" stroke-width="1.15"/>
<line x1="615.16" y1="327.8" x2="610.58" y2="323.40" stroke="#b088a8" stroke-width="1.15"/>
<line x1="610.58" y1="323.40" x2="605.99" y2="319.0" stroke="#e4dc3a" stroke-width="1.15"/>
<line x1="615.16" y1="327.8" x2="615.16" y2="323.40" stroke="#b088a8" stroke-width="1.15"/>
<line x1="615.16" y1="323.40" x2="615.16" y2="319.0" stroke="#e4dc3a" stroke-width="1.15"/>
<line x1="615.16" y1="327.8" x2="619.74" y2="323.40" stroke="#b088a8" stroke-width="1.15"/>
<line x1="619.74" y1="323.40" x2="624.33" y2="319.0" stroke="#e4dc3a" stroke-width="1.15"/>
<line x1="615.16" y1="327.8" x2="610.58" y2="332.35" stroke="#b088a8" stroke-width="1.15"/>
<line x1="610.58" y1="332.35" x2="605.99" y2="336.9" stroke="#e4dc3a" stroke-width="1.15"/>
<line x1="615.16" y1="327.8" x2="615.16" y2="332.35" stroke="#b088a8" stroke-width="1.15"/>
<line x1="615.16" y1="332.35" x2="615.16" y2="336.9" stroke="#e4dc3a" stroke-width="1.15"/>
<line x1="615.16" y1="327.8" x2="619.74" y2="332.35" stroke="#b088a8" stroke-width="1.15"/>
<line x1="619.74" y1="332.35" x2="624.33" y2="336.9" stroke="#e4dc3a" stroke-width="1.15"/>
<line x1="624.33" y1="327.8" x2="619.74" y2="323.40" stroke="#b088a8" stroke-width="1.15"/>
<line x1="619.74" y1="323.40" x2="615.16" y2="319.0" stroke="#e4dc3a" stroke-width="1.15"/>
<line x1="624.33" y1="327.8" x2="624.33" y2="323.40" stroke="#b088a8" stroke-width="1.15"/>
<line x1="624.33" y1="323.40" x2="624.33" y2="319.0" stroke="#e4dc3a" stroke-width="1.15"/>
<line x1="624.33" y1="327.8" x2="628.91" y2="323.40" stroke="#b088a8" stroke-width="1.15"/>
<line x1="628.91" y1="323.40" x2="633.50" y2="319.0" stroke="#e4dc3a" stroke-width="1.15"/>
<line x1="624.33" y1="327.8" x2="619.74" y2="332.35" stroke="#b088a8" stroke-width="1.15"/>
<line x1="619.74" y1="332.35" x2="615.16" y2="336.9" stroke="#e4dc3a" stroke-width="1.15"/>
<line x1="624.33" y1="327.8" x2="624.33" y2="332.35" stroke="#b088a8" stroke-width="1.15"/>
<line x1="624.33" y1="332.35" x2="624.33" y2="336.9" stroke="#e4dc3a" stroke-width="1.15"/>
<line x1="624.33" y1="327.8" x2="628.91" y2="332.35" stroke="#b088a8" stroke-width="1.15"/>
<line x1="628.91" y1="332.35" x2="633.50" y2="336.9" stroke="#e4dc3a" stroke-width="1.15"/>
<line x1="633.50" y1="327.8" x2="628.91" y2="323.40" stroke="#b088a8" stroke-width="1.15"/>
<line x1="628.91" y1="323.40" x2="624.33" y2="319.0" stroke="#e4dc3a" stroke-width="1.15"/>
<line x1="633.50" y1="327.8" x2="633.50" y2="323.40" stroke="#b088a8" stroke-width="1.15"/>
<line x1="633.50" y1="323.40" x2="633.50" y2="319.0" stroke="#e4dc3a" stroke-width="1.15"/>
<line x1="633.50" y1="327.8" x2="638.09" y2="323.40" stroke="#b088a8" stroke-width="1.15"/>
<line x1="638.09" y1="323.40" x2="642.67" y2="319.0" stroke="#e4dc3a" stroke-width="1.15"/>
<line x1="633.50" y1="327.8" x2="628.91" y2="332.35" stroke="#b088a8" stroke-width="1.15"/>
<line x1="628.91" y1="332.35" x2="624.33" y2="336.9" stroke="#e4dc3a" stroke-width="1.15"/>
<line x1="633.50" y1="327.8" x2="633.50" y2="332.35" stroke="#b088a8" stroke-width="1.15"/>
<line x1="633.50" y1="332.35" x2="633.50" y2="336.9" stroke="#e4dc3a" stroke-width="1.15"/>
<line x1="633.50" y1="327.8" x2="638.09" y2="332.35" stroke="#b088a8" stroke-width="1.15"/>
<line x1="638.09" y1="332.35" x2="642.67" y2="336.9" stroke="#e4dc3a" stroke-width="1.15"/>
<line x1="642.67" y1="327.8" x2="638.09" y2="323.40" stroke="#b088a8" stroke-width="1.15"/>
<line x1="638.09" y1="323.40" x2="633.50" y2="319.0" stroke="#e4dc3a" stroke-width="1.15"/>
<line x1="642.67" y1="327.8" x2="642.67" y2="323.40" stroke="#b088a8" stroke-width="1.15"/>
<line x1="642.67" y1="323.40" x2="642.67" y2="319.0" stroke="#e4dc3a" stroke-width="1.15"/>
<line x1="642.67" y1="327.8" x2="647.25" y2="323.40" stroke="#b088a8" stroke-width="1.15"/>
<line x1="647.25" y1="323.40" x2="651.84" y2="319.0" stroke="#e4dc3a" stroke-width="1.15"/>
<line x1="642.67" y1="327.8" x2="638.09" y2="332.35" stroke="#b088a8" stroke-width="1.15"/>
<line x1="638.09" y1="332.35" x2="633.50" y2="336.9" stroke="#e4dc3a" stroke-width="1.15"/>
<line x1="642.67" y1="327.8" x2="642.67" y2="332.35" stroke="#b088a8" stroke-width="1.15"/>
<line x1="642.67" y1="332.35" x2="642.67" y2="336.9" stroke="#e4dc3a" stroke-width="1.15"/>
<line x1="642.67" y1="327.8" x2="647.25" y2="332.35" stroke="#b088a8" stroke-width="1.15"/>
<line x1="647.25" y1="332.35" x2="651.84" y2="336.9" stroke="#e4dc3a" stroke-width="1.15"/>
<line x1="651.84" y1="327.8" x2="647.25" y2="323.40" stroke="#b088a8" stroke-width="1.15"/>
<line x1="647.25" y1="323.40" x2="642.67" y2="319.0" stroke="#e4dc3a" stroke-width="1.15"/>
<line x1="651.84" y1="327.8" x2="651.84" y2="323.40" stroke="#b088a8" stroke-width="1.15"/>
<line x1="651.84" y1="323.40" x2="651.84" y2="319.0" stroke="#e4dc3a" stroke-width="1.15"/>
<line x1="651.84" y1="327.8" x2="656.42" y2="323.40" stroke="#b088a8" stroke-width="1.15"/>
<line x1="656.42" y1="323.40" x2="661.01" y2="319.0" stroke="#e4dc3a" stroke-width="1.15"/>
<line x1="651.84" y1="327.8" x2="647.25" y2="332.35" stroke="#b088a8" stroke-width="1.15"/>
<line x1="647.25" y1="332.35" x2="642.67" y2="336.9" stroke="#e4dc3a" stroke-width="1.15"/>
<line x1="651.84" y1="327.8" x2="651.84" y2="332.35" stroke="#b088a8" stroke-width="1.15"/>
<line x1="651.84" y1="332.35" x2="651.84" y2="336.9" stroke="#e4dc3a" stroke-width="1.15"/>
<line x1="651.84" y1="327.8" x2="656.42" y2="332.35" stroke="#b088a8" stroke-width="1.15"/>
<line x1="656.42" y1="332.35" x2="661.01" y2="336.9" stroke="#e4dc3a" stroke-width="1.15"/>
<line x1="661.01" y1="327.8" x2="656.42" y2="323.40" stroke="#b088a8" stroke-width="1.15"/>
<line x1="656.42" y1="323.40" x2="651.84" y2="319.0" stroke="#e4dc3a" stroke-width="1.15"/>
<line x1="661.01" y1="327.8" x2="661.01" y2="323.40" stroke="#b088a8" stroke-width="1.15"/>
<line x1="661.01" y1="323.40" x2="661.01" y2="319.0" stroke="#e4dc3a" stroke-width="1.15"/>
<line x1="661.01" y1="327.8" x2="665.60" y2="323.40" stroke="#b088a8" stroke-width="1.15"/>
<line x1="665.60" y1="323.40" x2="670.18" y2="319.0" stroke="#e4dc3a" stroke-width="1.15"/>
<line x1="661.01" y1="327.8" x2="656.42" y2="332.35" stroke="#b088a8" stroke-width="1.15"/>
<line x1="656.42" y1="332.35" x2="651.84" y2="336.9" stroke="#e4dc3a" stroke-width="1.15"/>
<line x1="661.01" y1="327.8" x2="661.01" y2="332.35" stroke="#b088a8" stroke-width="1.15"/>
<line x1="661.01" y1="332.35" x2="661.01" y2="336.9" stroke="#e4dc3a" stroke-width="1.15"/>
<line x1="661.01" y1="327.8" x2="665.60" y2="332.35" stroke="#b088a8" stroke-width="1.15"/>
<line x1="665.60" y1="332.35" x2="670.18" y2="336.9" stroke="#e4dc3a" stroke-width="1.15"/>
<circle cx="541.80" cy="319.00" r="2.3" fill="url(#gS)"/>
<circle cx="541.80" cy="336.90" r="2.3" fill="url(#gS)"/>
<circle cx="550.97" cy="319.00" r="2.3" fill="url(#gS)"/>
<circle cx="550.97" cy="336.90" r="2.3" fill="url(#gS)"/>
<circle cx="560.14" cy="319.00" r="2.3" fill="url(#gS)"/>
<circle cx="560.14" cy="336.90" r="2.3" fill="url(#gS)"/>
<circle cx="569.31" cy="319.00" r="2.3" fill="url(#gS)"/>
<circle cx="569.31" cy="336.90" r="2.3" fill="url(#gS)"/>
<circle cx="578.48" cy="319.00" r="2.3" fill="url(#gS)"/>
<circle cx="578.48" cy="336.90" r="2.3" fill="url(#gS)"/>
<circle cx="587.65" cy="319.00" r="2.3" fill="url(#gS)"/>
<circle cx="587.65" cy="336.90" r="2.3" fill="url(#gS)"/>
<circle cx="596.82" cy="319.00" r="2.3" fill="url(#gS)"/>
<circle cx="596.82" cy="336.90" r="2.3" fill="url(#gS)"/>
<circle cx="605.99" cy="319.00" r="2.3" fill="url(#gS)"/>
<circle cx="605.99" cy="336.90" r="2.3" fill="url(#gS)"/>
<circle cx="615.16" cy="319.00" r="2.3" fill="url(#gS)"/>
<circle cx="615.16" cy="336.90" r="2.3" fill="url(#gS)"/>
<circle cx="624.33" cy="319.00" r="2.3" fill="url(#gS)"/>
<circle cx="624.33" cy="336.90" r="2.3" fill="url(#gS)"/>
<circle cx="633.50" cy="319.00" r="2.3" fill="url(#gS)"/>
<circle cx="633.50" cy="336.90" r="2.3" fill="url(#gS)"/>
<circle cx="642.67" cy="319.00" r="2.3" fill="url(#gS)"/>
<circle cx="642.67" cy="336.90" r="2.3" fill="url(#gS)"/>
<circle cx="651.84" cy="319.00" r="2.3" fill="url(#gS)"/>
<circle cx="651.84" cy="336.90" r="2.3" fill="url(#gS)"/>
<circle cx="661.01" cy="319.00" r="2.3" fill="url(#gS)"/>
<circle cx="661.01" cy="336.90" r="2.3" fill="url(#gS)"/>
<circle cx="670.18" cy="319.00" r="2.3" fill="url(#gS)"/>
<circle cx="670.18" cy="336.90" r="2.3" fill="url(#gS)"/>
<circle cx="550.97" cy="327.8" r="3.2" fill="url(#gMoRing)"/>
<circle cx="560.14" cy="327.8" r="3.2" fill="url(#gMoRing)"/>
<circle cx="569.31" cy="327.8" r="3.2" fill="url(#gMoRing)"/>
<circle cx="578.48" cy="327.8" r="3.2" fill="url(#gMoRing)"/>
<circle cx="587.65" cy="327.8" r="3.2" fill="url(#gMoRing)"/>
<circle cx="596.82" cy="327.8" r="3.2" fill="url(#gMoRing)"/>
<circle cx="605.99" cy="327.8" r="3.2" fill="url(#gMoRing)"/>
<circle cx="615.16" cy="327.8" r="3.2" fill="url(#gMoRing)"/>
<circle cx="624.33" cy="327.8" r="3.2" fill="url(#gMoRing)"/>
<circle cx="633.50" cy="327.8" r="3.2" fill="url(#gMoRing)"/>
<circle cx="642.67" cy="327.8" r="3.2" fill="url(#gMoRing)"/>
<circle cx="651.84" cy="327.8" r="3.2" fill="url(#gMoRing)"/>
<circle cx="661.01" cy="327.8" r="3.2" fill="url(#gMoRing)"/>
<circle cx="544.60" cy="287.60" r="4.2" fill="url(#gCdD)"/>
<circle cx="552.39" cy="287.60" r="4.2" fill="url(#gCdD)"/>
<circle cx="560.18" cy="287.60" r="4.2" fill="url(#gCdD)"/>
<circle cx="567.97" cy="287.60" r="4.2" fill="url(#gCdD)"/>
<circle cx="575.76" cy="287.60" r="4.2" fill="url(#gCdD)"/>
<circle cx="583.55" cy="287.60" r="4.2" fill="url(#gCdD)"/>
<circle cx="591.34" cy="287.60" r="4.2" fill="url(#gCdD)"/>
<circle cx="599.13" cy="287.60" r="4.2" fill="url(#gCdD)"/>
<circle cx="606.92" cy="287.60" r="4.2" fill="url(#gCdD)"/>
<circle cx="614.71" cy="287.60" r="4.2" fill="url(#gCdD)"/>
<circle cx="622.50" cy="287.60" r="4.2" fill="url(#gCdD)"/>
<circle cx="630.29" cy="287.60" r="4.2" fill="url(#gCdD)"/>
<circle cx="638.08" cy="287.60" r="4.2" fill="url(#gCdD)"/>
<circle cx="645.87" cy="287.60" r="4.2" fill="url(#gCdD)"/>
<circle cx="653.66" cy="287.60" r="4.2" fill="url(#gCdD)"/>
<circle cx="661.45" cy="287.60" r="4.2" fill="url(#gCdD)"/>
<circle cx="669.24" cy="287.60" r="4.2" fill="url(#gCdD)"/>
<circle cx="544.60" cy="296.30" r="4.2" fill="url(#gCdD)"/>
<circle cx="552.39" cy="296.30" r="4.2" fill="url(#gCdD)"/>
<circle cx="560.18" cy="296.30" r="4.2" fill="url(#gCdD)"/>
<circle cx="567.97" cy="296.30" r="4.2" fill="url(#gCdD)"/>
<circle cx="575.76" cy="296.30" r="4.2" fill="url(#gCdD)"/>
<circle cx="583.55" cy="296.30" r="4.2" fill="url(#gCdD)"/>
<circle cx="591.34" cy="296.30" r="4.2" fill="url(#gCdD)"/>
<circle cx="599.13" cy="296.30" r="4.2" fill="url(#gCdD)"/>
<circle cx="606.92" cy="296.30" r="4.2" fill="url(#gCdD)"/>
<circle cx="614.71" cy="296.30" r="4.2" fill="url(#gCdD)"/>
<circle cx="622.50" cy="296.30" r="4.2" fill="url(#gCdD)"/>
<circle cx="630.29" cy="296.30" r="4.2" fill="url(#gCdD)"/>
<circle cx="638.08" cy="296.30" r="4.2" fill="url(#gCdD)"/>
<circle cx="645.87" cy="296.30" r="4.2" fill="url(#gCdD)"/>
<circle cx="653.66" cy="296.30" r="4.2" fill="url(#gCdD)"/>
<circle cx="661.45" cy="296.30" r="4.2" fill="url(#gCdD)"/>
<circle cx="669.24" cy="296.30" r="4.2" fill="url(#gCdD)"/>
<circle cx="544.60" cy="305.00" r="4.2" fill="url(#gCdD)"/>
<circle cx="552.39" cy="305.00" r="4.2" fill="url(#gCdD)"/>
<circle cx="560.18" cy="305.00" r="4.2" fill="url(#gCdD)"/>
<circle cx="567.97" cy="305.00" r="4.2" fill="url(#gCdD)"/>
<circle cx="575.76" cy="305.00" r="4.2" fill="url(#gCdD)"/>
<circle cx="583.55" cy="305.00" r="4.2" fill="url(#gCdD)"/>
<circle cx="591.34" cy="305.00" r="4.2" fill="url(#gCdD)"/>
<circle cx="599.13" cy="305.00" r="4.2" fill="url(#gCdD)"/>
<circle cx="606.92" cy="305.00" r="4.2" fill="url(#gCdD)"/>
<circle cx="614.71" cy="305.00" r="4.2" fill="url(#gCdD)"/>
<circle cx="622.50" cy="305.00" r="4.2" fill="url(#gCdD)"/>
<circle cx="630.29" cy="305.00" r="4.2" fill="url(#gCdD)"/>
<circle cx="638.08" cy="305.00" r="4.2" fill="url(#gCdD)"/>
<circle cx="645.87" cy="305.00" r="4.2" fill="url(#gCdD)"/>
<circle cx="653.66" cy="305.00" r="4.2" fill="url(#gCdD)"/>
<circle cx="661.45" cy="305.00" r="4.2" fill="url(#gCdD)"/>
<circle cx="669.24" cy="305.00" r="4.2" fill="url(#gCdD)"/>
<text x="549.8" y="316.5" font-size="9" fill="#111">vdW gap</text>
<rect x="339.2" y="395.2" width="35" height="68.6" fill="#9f9898" filter="url(#blur1)"/>
<rect x="340.6" y="396.7" width="32.9" height="65.6" fill="#ffe594"/>
<line x1="375.5" y1="354.2" x2="375.5" y2="462" stroke="#222" stroke-width="1.5"/>
<line x1="386.6" y1="354.2" x2="386.6" y2="462" stroke="#222" stroke-width="1.5"/>
<rect x="374.4" y="373.0" width="14.4" height="62.6" rx="1" fill="#fbac7c" stroke="#fbac7c" stroke-width="2.6" filter="url(#blur1)" opacity="0.85"/>
<rect x="387.4" y="374" width="2.2" height="60.6" fill="#fdb45c" filter="url(#blur08)" opacity="0.8"/>
<rect x="376.7" y="375.7" width="9.1" height="57.2" fill="#e2e2e4"/>
<path d="M382.02 382.79C382.89 382.64 383.62 382.90 384.21 383.23C384.79 383.56 385.27 384.14 385.52 384.76C385.78 385.38 385.48 386.33 385.74 386.95C386.00 387.57 387.02 388.05 387.05 388.48C387.09 388.92 386.14 388.96 385.96 389.58C385.78 390.20 386.18 391.40 385.96 392.21C385.74 393.01 385.23 393.89 384.64 394.40C384.06 394.91 383.08 394.98 382.45 395.27C381.83 395.56 381.36 396.19 380.92 396.15C380.48 396.11 380.45 395.31 379.83 395.05C379.21 394.80 377.82 394.87 377.20 394.62C376.58 394.36 376.07 394.00 376.10 393.52C376.14 393.05 377.27 392.50 377.42 391.77C377.56 391.04 377.02 390.02 376.98 389.14C376.94 388.26 376.87 387.35 377.20 386.51C377.53 385.67 378.15 384.72 378.95 384.10C379.75 383.48 381.14 382.94 382.02 382.79Z" fill="#ffff00"/>
<path d="M387.6 374.5H403C403 379.4 404.4 381.5 408 383.2C414 385.8 424 386.8 440 386.9L497.2 386.3" fill="none" stroke="#111" stroke-width="1.75" stroke-linejoin="miter"/>
<path d="M387.6 434.3H403C403 438.7 404.4 440.6 408 442.1C414 444.4 424 445.3 440 445.4L502 444.8" fill="none" stroke="#111" stroke-width="1.75" stroke-linejoin="miter"/>
<line x1="389.4" y1="396.9" x2="499.8" y2="396.9" stroke="#a2a2a2" stroke-width="1.3" stroke-dasharray="7.4 2.4"/>
<text x="503.6" y="399.9" font-size="10" fill="#111"><tspan font-style="italic">E</tspan><tspan font-size="6.8" dy="2.2" font-style="normal">F</tspan></text>
<text x="349.4" y="385.8" font-size="12.4" fill="#111"><tspan font-style="italic">Φ</tspan><tspan font-size="7.5" dy="2.8" font-style="normal">SB</tspan></text>
<line x1="370.4" y1="377" x2="370.4" y2="391.5" stroke="#111" stroke-width="1.2" stroke-dasharray="3.4 2.2" stroke-dashoffset="1.2"/>
<path d="M370.40 372.80L373.05 378.20L370.40 378.04L367.75 378.20Z" fill="#111"/>
<path d="M370.40 395.40L367.75 390.00L370.40 390.16L373.05 390.00Z" fill="#111"/>
<line x1="408.8" y1="408.2" x2="395.5" y2="401.2" stroke="#111" stroke-width="1.4" stroke-dasharray="3.6 2"/>
<path d="M391.00 398.90L398.42 399.36L396.86 401.93L395.66 404.69Z" fill="#111"/>
<text x="412.8" y="414.2" font-size="9.8" fill="#111">MIGS+DIGS</text>
<text x="410.6" y="430.4" font-size="9.9" fill="#111">Fermi level pinning</text>
<text x="350.2" y="453.6" font-size="11" fill="#111">Au</text>
<text x="358.0" y="483.8" font-size="11.3" fill="#111">Schottky</text>
<text x="464.0" y="368.7" font-size="10.5" fill="#111">Tunnelling barrier</text>
<rect x="519.6" y="390.8" width="37.4" height="73.4" fill="#a49f9f" filter="url(#blur1)"/>
<rect x="521.1" y="393.1" width="34.7" height="69.5" fill="#ececec"/>
<rect x="557.6" y="390.2" width="4.5" height="60.2" fill="url(#gStripP)"/>
<rect x="562.1" y="390.2" width="3.6" height="60.2" fill="url(#gStripY)"/>
<line x1="557.1" y1="355.8" x2="557.1" y2="463.3" stroke="#2a2a2a" stroke-width="1.5"/>
<line x1="565.9" y1="355.8" x2="565.9" y2="463.3" stroke="#2a2a2a" stroke-width="1.5"/>
<text transform="translate(564.6,386.8) rotate(-90)" font-size="7.9" fill="#111" style="stroke-width:0.35px">vdW gap</text>
<path d="M567 390.1H582.6C582.6 386.2 584 383.9 587.4 382.4C592.5 380.3 601 379.6 614 379.4L672.4 380.0" fill="none" stroke="#111" stroke-width="1.75" stroke-linejoin="miter"/>
<path d="M567 448.8H582.6C582.6 444.6 584 442.2 587.4 440.6C592.5 438.4 601 437.6 614 437.4L672.4 437.7" fill="none" stroke="#111" stroke-width="1.75" stroke-linejoin="miter"/>
<line x1="583.2" y1="391.4" x2="669.2" y2="391.4" stroke="#a2a2a2" stroke-width="1.3" stroke-dasharray="5.2 4.4"/>
<line x1="538.6" y1="372.5" x2="549.2" y2="380.2" stroke="#111" stroke-width="1.4" stroke-dasharray="3.6 2"/>
<path d="M552.90 382.60L545.84 381.12L547.69 378.88L549.22 376.40Z" fill="#111"/>
<text x="581.2" y="413.4" font-size="10" fill="#111">Near zero <tspan font-style="italic">Φ</tspan><tspan font-size="7" dy="2.2" font-style="normal">SB</tspan></text>
<text x="531.2" y="454.9" font-size="11.2" fill="#111">Cd</text>
<text x="542.6" y="486.5" font-size="11.3" fill="#111">Ohmic</text>
</g>
<g id="panel-e">
<text x="-0.3" y="518.2" font-size="16" font-weight="bold" fill="#000">e</text>
<polygon points="84.7,544.3 502.6,528.4 502.6,609.5 84.7,609.5" fill="url(#gPinkE)"/>
<ellipse cx="285.0" cy="647.2" rx="35.6" ry="15.6" fill="url(#gEll)"/>
<line x1="84.7" y1="609.7" x2="502.6" y2="609.7" stroke="#111" stroke-width="1.2" stroke-dasharray="5.3 3.65"/>
<rect x="84.7" y="526.7" width="417.90000000000003" height="137.5" fill="none" stroke="#111" stroke-width="1.3"/>
<line x1="84.7" y1="543.0" x2="88.10000000000001" y2="543.0" stroke="#111" stroke-width="1.1"/>
<text x="81.8" y="547.1" font-size="11.2" text-anchor="end" fill="#111">800</text>
<line x1="84.7" y1="576.3" x2="88.10000000000001" y2="576.3" stroke="#111" stroke-width="1.1"/>
<text x="81.8" y="580.4" font-size="11.2" text-anchor="end" fill="#111">600</text>
<line x1="84.7" y1="609.5" x2="88.10000000000001" y2="609.5" stroke="#111" stroke-width="1.1"/>
<text x="81.8" y="613.6" font-size="11.2" text-anchor="end" fill="#111">400</text>
<line x1="84.7" y1="642.6" x2="88.10000000000001" y2="642.6" stroke="#111" stroke-width="1.1"/>
<text x="81.8" y="646.7" font-size="11.2" text-anchor="end" fill="#111">200</text>
<text transform="translate(46.6,587.4) rotate(-90)" font-size="12" text-anchor="middle" fill="#111">Synthesis temperature (°C)</text>
<text x="282.7" y="623.8" font-size="10.4" fill="#111">BEOL temperature limit</text>
<text x="264.8" y="645.9" font-size="10.4" fill="#111">This work</text>
<rect x="114.50" y="572.20" width="7.2" height="7.2" fill="#4d4d4d"/>
<circle cx="151.30" cy="587.00" r="4.1" fill="#ee3c3c"/>
<polygon points="184.80,560.90 189.80,569.60 179.80,569.60" fill="#1f6fe0"/>
<polygon points="218.30,578.50 222.40,580.85 222.40,585.55 218.30,587.90 214.20,585.55 214.20,580.85" fill="#7b4b4b"/>
<polygon points="251.50,584.40 256.70,589.60 251.50,594.80 246.30,589.60" fill="#b070e2"/>
<polygon points="279.20,567.80 288.30,562.70 288.30,572.90" fill="#c8920a"/>
<polygon points="315.20,595.00 323.40,599.30 315.20,603.60" fill="#fff" stroke="#12c4c9" stroke-width="1.1" stroke-linejoin="miter"/>
<polygon points="314.90,594.50 324.00,599.30 314.90,600.20" fill="#12c4c9"/>
<polygon points="351.70,573.60 355.40,575.90 355.40,580.50 351.70,582.80 348.00,580.50 348.00,575.90" fill="#fff" stroke="#2db36c" stroke-width="1"/>
<polygon points="351.70,573.60 351.70,582.80 348.00,580.50 348.00,575.90" fill="#2db36c"/>
<polygon points="385.10,564.50 386.39,568.22 390.33,568.30 387.19,570.68 388.33,574.45 385.10,572.20 381.87,574.45 383.01,570.68 379.87,568.30 383.81,568.22" fill="#8a7f10"/>
<circle cx="451.90" cy="575.40" r="4.2" fill="url(#gBlueS)"/>
<polygon points="485.40,538.20 490.00,543.20 485.40,548.20 480.80,543.20" fill="#fff" stroke="#69b600" stroke-width="1"/>
<polygon points="485.40,538.20 490.00,543.20 485.40,548.20" fill="#69b600"/>
<polygon points="284.70,652.10 285.97,655.75 289.84,655.83 286.75,658.17 287.87,661.87 284.70,659.66 281.53,661.87 282.65,658.17 279.56,655.83 283.43,655.75" fill="#f01010"/>
<polygon points="521.40,547.80 529.60,552.10 521.40,556.40" fill="#fff" stroke="#12c4c9" stroke-width="1.1" stroke-linejoin="miter"/>
<polygon points="521.10,547.30 530.20,552.10 521.10,553.00" fill="#12c4c9"/>
<text x="538.6" y="556.6" font-size="10" fill="#111">Au</text>
<polygon points="525.40,562.60 529.50,564.95 529.50,569.65 525.40,572.00 521.30,569.65 521.30,564.95" fill="#7b4b4b"/>
<text x="538.6" y="571.6" font-size="10" fill="#111">Pt</text>
<polygon points="525.40,577.90 526.53,581.15 529.97,581.22 527.23,583.29 528.22,586.58 525.40,584.62 522.58,586.58 523.57,583.29 520.83,581.22 524.27,581.15" fill="#8a7f10"/>
<text x="538.6" y="586.4" font-size="10" fill="#111">Ag</text>
<circle cx="525.40" cy="597.30" r="4.2" fill="url(#gBlueS)"/>
<text x="538.6" y="601.3" font-size="10" fill="#111">VS<tspan font-size="7" dy="2.2" font-style="normal">2</tspan></text>
<polygon points="525.40,608.80 530.00,613.80 525.40,618.80 520.80,613.80" fill="#fff" stroke="#69b600" stroke-width="1"/>
<polygon points="525.40,608.80 530.00,613.80 525.40,618.80" fill="#69b600"/>
<text x="538.6" y="617.8" font-size="10" fill="#111">1T′-MoTe<tspan font-size="7" dy="2.2" font-style="normal">2</tspan></text>
<polygon points="525.40,626.00 526.53,629.25 529.97,629.32 527.23,631.39 528.22,634.68 525.40,632.72 522.58,634.68 523.57,631.39 520.83,629.32 524.27,629.25" fill="#f01010"/>
<text x="538.6" y="634.9" font-size="10" fill="#111">Cd</text>
<rect x="593.40" y="548.00" width="7.2" height="7.2" fill="#4d4d4d"/>
<text x="611.0" y="556.2" font-size="10" fill="#111">VSe<tspan font-size="7" dy="2.2" font-style="normal">2</tspan></text>
<circle cx="597.00" cy="568.40" r="4.1" fill="#ee3c3c"/>
<text x="611.0" y="572.4" font-size="10" fill="#111">CoSe</text>
<polygon points="597.00,577.70 602.00,586.40 592.00,586.40" fill="#1f6fe0"/>
<text x="611.0" y="587.4" font-size="10" fill="#111">Sb</text>
<polygon points="597.00,593.50 600.70,595.80 600.70,600.40 597.00,602.70 593.30,600.40 593.30,595.80" fill="#fff" stroke="#2db36c" stroke-width="1"/>
<polygon points="597.00,593.50 597.00,602.70 593.30,600.40 593.30,595.80" fill="#2db36c"/>
<text x="611.0" y="601.8" font-size="10" fill="#111">VS<tspan font-size="7" dy="2.2" font-style="normal">2x</tspan><tspan dy="-2.2">Se</tspan><tspan font-size="7" dy="2.2" font-style="normal">2(1−x)</tspan></text>
<polygon points="597.00,609.40 602.20,614.60 597.00,619.80 591.80,614.60" fill="#b070e2"/>
<text x="611.0" y="618.9" font-size="10" fill="#111">Pd</text>
<polygon points="592.30,629.60 601.40,624.50 601.40,634.70" fill="#c8920a"/>
<text x="611.0" y="634.1" font-size="10" fill="#111">Cu</text>
</g>
</svg>
</body></html>
